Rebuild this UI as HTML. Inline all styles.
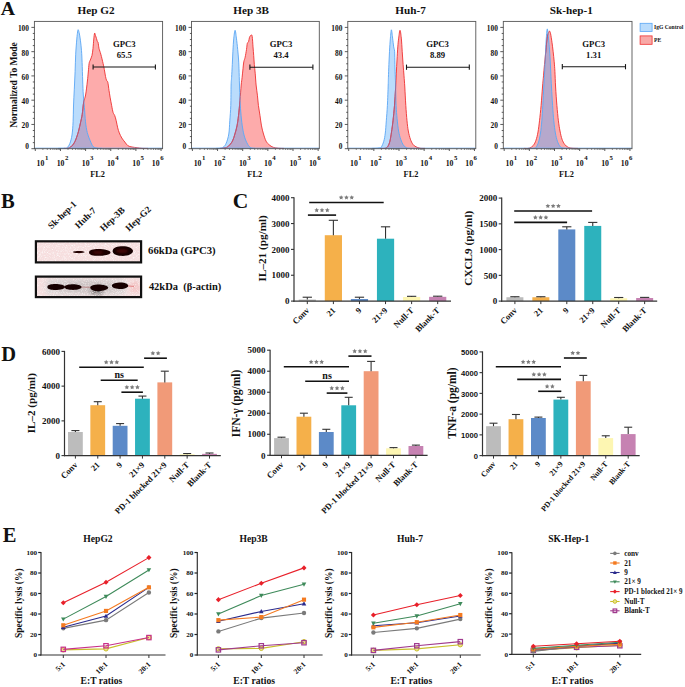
<!DOCTYPE html>
<html><head><meta charset="utf-8"><style>
html,body{margin:0;padding:0;background:#fff;}
svg{display:block;}
</style></head><body>
<svg width="685" height="687" viewBox="0 0 685 687">
<defs><clipPath id="cb0"><path d="M58.00,148.40 C59.00,148.38 62.52,148.38 64.00,148.30 C65.48,148.22 65.93,148.68 66.90,147.90 C67.87,147.12 68.95,145.75 69.80,143.60 C70.65,141.45 71.45,138.63 72.00,135.00 C72.55,131.37 72.85,126.63 73.10,121.80 C73.35,116.97 73.30,111.43 73.50,106.00 C73.70,100.57 74.03,94.92 74.30,89.20 C74.57,83.48 74.87,77.53 75.10,71.70 C75.33,65.87 75.42,59.65 75.70,54.20 C75.98,48.75 76.48,42.70 76.80,39.00 C77.12,35.30 77.37,33.55 77.60,32.00 C77.83,30.45 77.95,29.62 78.20,29.70 C78.45,29.78 78.73,30.75 79.10,32.50 C79.47,34.25 80.00,37.17 80.40,40.20 C80.80,43.23 81.22,47.00 81.50,50.70 C81.78,54.40 81.90,57.35 82.10,62.40 C82.30,67.45 82.50,75.57 82.70,81.00 C82.90,86.43 83.02,90.62 83.30,95.00 C83.58,99.38 84.03,102.83 84.40,107.30 C84.77,111.77 85.02,117.57 85.50,121.80 C85.98,126.03 86.52,129.55 87.30,132.70 C88.08,135.85 89.23,138.40 90.20,140.70 C91.17,143.00 91.97,145.27 93.10,146.50 C94.23,147.73 95.52,147.78 97.00,148.10 C98.48,148.42 101.17,148.35 102.00,148.40 L102.00,148.70 L58.00,148.70 Z"/></clipPath>
<clipPath id="cb1"><path d="M216.00,148.40 C216.67,148.37 218.80,148.38 220.00,148.20 C221.20,148.02 222.17,148.13 223.20,147.30 C224.23,146.47 225.27,145.42 226.20,143.20 C227.13,140.98 228.20,137.73 228.80,134.00 C229.40,130.27 229.47,125.57 229.80,120.80 C230.13,116.03 230.58,111.37 230.80,105.40 C231.02,99.43 230.97,89.65 231.10,85.00 C231.23,80.35 231.40,80.93 231.60,77.50 C231.80,74.07 232.08,68.77 232.30,64.40 C232.52,60.03 232.65,55.68 232.90,51.30 C233.15,46.92 233.43,41.60 233.80,38.10 C234.17,34.60 234.67,30.30 235.10,30.30 C235.53,30.30 235.97,34.90 236.40,38.10 C236.83,41.30 237.33,45.85 237.70,49.50 C238.07,53.15 238.38,56.78 238.60,60.00 C238.82,63.22 238.85,64.63 239.00,68.80 C239.15,72.97 239.33,79.75 239.50,85.00 C239.67,90.25 239.73,95.18 240.00,100.30 C240.27,105.42 240.67,111.10 241.10,115.70 C241.53,120.30 242.02,124.33 242.60,127.90 C243.18,131.47 243.75,134.37 244.60,137.10 C245.45,139.83 246.67,142.52 247.70,144.30 C248.73,146.08 249.58,147.12 250.80,147.80 C252.02,148.48 254.30,148.30 255.00,148.40 L255.00,148.70 L216.00,148.70 Z"/></clipPath>
<clipPath id="cb2"><path d="M372.00,148.40 C372.67,148.38 374.80,148.38 376.00,148.30 C377.20,148.22 378.33,148.07 379.20,147.90 C380.07,147.73 380.43,148.42 381.20,147.30 C381.97,146.18 383.12,143.58 383.80,141.20 C384.48,138.82 384.88,136.40 385.30,133.00 C385.72,129.60 385.95,125.40 386.30,120.80 C386.65,116.20 387.08,111.37 387.40,105.40 C387.72,99.43 388.03,89.65 388.20,85.00 C388.37,80.35 388.28,80.93 388.40,77.50 C388.52,74.07 388.72,68.77 388.90,64.40 C389.08,60.03 389.25,55.68 389.50,51.30 C389.75,46.92 390.08,41.68 390.40,38.10 C390.72,34.52 391.03,29.80 391.40,29.80 C391.77,29.80 392.22,35.25 392.60,38.10 C392.98,40.95 393.37,44.70 393.70,46.90 C394.03,49.10 394.40,48.38 394.60,51.30 C394.80,54.22 394.78,60.03 394.90,64.40 C395.02,68.77 395.18,74.07 395.30,77.50 C395.42,80.93 395.47,80.35 395.60,85.00 C395.73,89.65 395.85,99.78 396.10,105.40 C396.35,111.02 396.68,114.43 397.10,118.70 C397.52,122.97 398.00,127.58 398.60,131.00 C399.20,134.42 399.93,136.90 400.70,139.20 C401.47,141.50 402.27,143.37 403.20,144.80 C404.13,146.23 405.17,147.20 406.30,147.80 C407.43,148.40 409.38,148.30 410.00,148.40 L410.00,148.70 L372.00,148.70 Z"/></clipPath>
<clipPath id="cb3"><path d="M528.00,148.40 C528.98,148.38 532.57,148.48 533.90,148.30 C535.23,148.12 535.23,148.32 536.00,147.30 C536.77,146.28 537.75,144.58 538.50,142.20 C539.25,139.82 539.95,136.57 540.50,133.00 C541.05,129.43 541.42,125.40 541.80,120.80 C542.18,116.20 542.47,111.03 542.80,105.40 C543.13,99.77 543.55,91.65 543.80,87.00 C544.05,82.35 544.10,81.27 544.30,77.50 C544.50,73.73 544.78,68.77 545.00,64.40 C545.22,60.03 545.38,55.68 545.60,51.30 C545.82,46.92 546.02,41.83 546.30,38.10 C546.58,34.37 546.93,28.90 547.30,28.90 C547.67,28.90 548.17,35.10 548.50,38.10 C548.83,41.10 549.02,43.25 549.30,46.90 C549.58,50.55 549.95,55.62 550.20,60.00 C550.45,64.38 550.58,68.70 550.80,73.20 C551.02,77.70 551.20,81.63 551.50,87.00 C551.80,92.37 552.22,99.77 552.60,105.40 C552.98,111.03 553.33,116.20 553.80,120.80 C554.27,125.40 554.80,129.60 555.40,133.00 C556.00,136.40 556.63,138.98 557.40,141.20 C558.17,143.42 559.07,145.15 560.00,146.30 C560.93,147.45 561.67,147.75 563.00,148.10 C564.33,148.45 567.17,148.35 568.00,148.40 L568.00,148.70 L528.00,148.70 Z"/></clipPath>
<filter id="blur0" x="-50%" y="-50%" width="200%" height="200%"><feGaussianBlur stdDeviation="0.7"/></filter>
<filter id="blur1" x="-50%" y="-50%" width="200%" height="200%"><feGaussianBlur stdDeviation="1.1"/></filter>
<filter id="blur2" x="-50%" y="-50%" width="200%" height="200%"><feGaussianBlur stdDeviation="2.2"/></filter>
<filter id="noise" x="0" y="0" width="100%" height="100%"><feTurbulence type="fractalNoise" baseFrequency="1.1" numOctaves="2" seed="7" result="t"/><feColorMatrix in="t" type="matrix" values="0 0 0 0 1  0 0 0 0 1  0 0 0 0 1  3 0 0 0 -1.45" result="w"/><feColorMatrix in="t" type="matrix" values="0 0 0 0 0.93  0 0 0 0 0.7  0 0 0 0 0.72  0 3 0 0 -1.5" result="p"/><feMerge><feMergeNode in="p"/><feMergeNode in="w"/></feMerge></filter>
</defs>
<rect width="685" height="687" fill="#fff"/>
<text x="0.80" y="14.80" font-size="19.8" text-anchor="start" font-weight="bold" fill="#111" font-family='"Liberation Serif", serif'>A</text>
<text x="1.00" y="207.70" font-size="20.5" text-anchor="start" font-weight="bold" fill="#111" font-family='"Liberation Serif", serif'>B</text>
<text x="232.80" y="207.90" font-size="21.5" text-anchor="start" font-weight="bold" fill="#111" font-family='"Liberation Serif", serif'>C</text>
<text x="1.20" y="360.80" font-size="20.5" text-anchor="start" font-weight="bold" fill="#111" font-family='"Liberation Serif", serif'>D</text>
<text x="2.80" y="541.70" font-size="20.5" text-anchor="start" font-weight="bold" fill="#111" font-family='"Liberation Serif", serif'>E</text>
<text x="96.00" y="14.40" font-size="11.2" text-anchor="middle" font-weight="bold" fill="#111" font-family='"Liberation Serif", serif'>Hep G2</text>
<path d="M64.00,148.40 C64.85,148.33 67.65,148.57 69.10,148.00 C70.55,147.43 71.62,146.33 72.70,145.00 C73.78,143.67 74.63,142.28 75.60,140.00 C76.57,137.72 77.65,134.33 78.50,131.30 C79.35,128.27 80.08,124.60 80.70,121.80 C81.32,119.00 81.70,117.80 82.20,114.50 C82.70,111.20 83.13,105.25 83.70,102.00 C84.27,98.75 84.98,98.50 85.60,95.00 C86.22,91.50 86.95,84.83 87.40,81.00 C87.85,77.17 88.02,74.92 88.30,72.00 C88.58,69.08 88.77,65.50 89.10,63.50 C89.43,61.50 89.82,61.35 90.30,60.00 C90.78,58.65 91.55,57.33 92.00,55.40 C92.45,53.47 92.70,51.13 93.00,48.40 C93.30,45.67 93.53,41.53 93.80,39.00 C94.07,36.47 94.32,33.78 94.60,33.20 C94.88,32.62 95.18,34.62 95.50,35.50 C95.82,36.38 96.20,37.52 96.50,38.50 C96.80,39.48 97.03,40.73 97.30,41.40 C97.57,42.07 97.82,41.33 98.10,42.50 C98.38,43.67 98.55,46.45 99.00,48.40 C99.45,50.35 100.12,51.68 100.80,54.20 C101.48,56.72 102.52,60.97 103.10,63.50 C103.68,66.03 103.90,67.25 104.30,69.40 C104.70,71.55 105.12,74.55 105.50,76.40 C105.88,78.25 106.22,79.53 106.60,80.50 C106.98,81.47 107.40,80.55 107.80,82.20 C108.20,83.85 108.62,87.90 109.00,90.40 C109.38,92.90 109.67,94.72 110.10,97.20 C110.53,99.68 111.10,102.75 111.60,105.30 C112.10,107.85 112.58,110.80 113.10,112.50 C113.62,114.20 114.18,114.13 114.70,115.50 C115.22,116.87 115.70,118.65 116.20,120.70 C116.70,122.75 117.18,125.77 117.70,127.80 C118.22,129.83 118.62,131.20 119.30,132.90 C119.98,134.60 120.87,136.47 121.80,138.00 C122.73,139.53 123.88,140.82 124.90,142.10 C125.92,143.38 126.72,144.88 127.90,145.70 C129.08,146.52 130.47,146.67 132.00,147.00 C133.53,147.33 135.43,147.48 137.10,147.70 C138.77,147.92 140.18,148.18 142.00,148.30 C143.82,148.42 147.00,148.38 148.00,148.40 L148.00,148.70 L64.00,148.70 Z" fill="#fdabab"/>
<path d="M58.00,148.40 C59.00,148.38 62.52,148.38 64.00,148.30 C65.48,148.22 65.93,148.68 66.90,147.90 C67.87,147.12 68.95,145.75 69.80,143.60 C70.65,141.45 71.45,138.63 72.00,135.00 C72.55,131.37 72.85,126.63 73.10,121.80 C73.35,116.97 73.30,111.43 73.50,106.00 C73.70,100.57 74.03,94.92 74.30,89.20 C74.57,83.48 74.87,77.53 75.10,71.70 C75.33,65.87 75.42,59.65 75.70,54.20 C75.98,48.75 76.48,42.70 76.80,39.00 C77.12,35.30 77.37,33.55 77.60,32.00 C77.83,30.45 77.95,29.62 78.20,29.70 C78.45,29.78 78.73,30.75 79.10,32.50 C79.47,34.25 80.00,37.17 80.40,40.20 C80.80,43.23 81.22,47.00 81.50,50.70 C81.78,54.40 81.90,57.35 82.10,62.40 C82.30,67.45 82.50,75.57 82.70,81.00 C82.90,86.43 83.02,90.62 83.30,95.00 C83.58,99.38 84.03,102.83 84.40,107.30 C84.77,111.77 85.02,117.57 85.50,121.80 C85.98,126.03 86.52,129.55 87.30,132.70 C88.08,135.85 89.23,138.40 90.20,140.70 C91.17,143.00 91.97,145.27 93.10,146.50 C94.23,147.73 95.52,147.78 97.00,148.10 C98.48,148.42 101.17,148.35 102.00,148.40 L102.00,148.70 L58.00,148.70 Z" fill="#badcfc"/>
<path d="M64.00,148.40 C64.85,148.33 67.65,148.57 69.10,148.00 C70.55,147.43 71.62,146.33 72.70,145.00 C73.78,143.67 74.63,142.28 75.60,140.00 C76.57,137.72 77.65,134.33 78.50,131.30 C79.35,128.27 80.08,124.60 80.70,121.80 C81.32,119.00 81.70,117.80 82.20,114.50 C82.70,111.20 83.13,105.25 83.70,102.00 C84.27,98.75 84.98,98.50 85.60,95.00 C86.22,91.50 86.95,84.83 87.40,81.00 C87.85,77.17 88.02,74.92 88.30,72.00 C88.58,69.08 88.77,65.50 89.10,63.50 C89.43,61.50 89.82,61.35 90.30,60.00 C90.78,58.65 91.55,57.33 92.00,55.40 C92.45,53.47 92.70,51.13 93.00,48.40 C93.30,45.67 93.53,41.53 93.80,39.00 C94.07,36.47 94.32,33.78 94.60,33.20 C94.88,32.62 95.18,34.62 95.50,35.50 C95.82,36.38 96.20,37.52 96.50,38.50 C96.80,39.48 97.03,40.73 97.30,41.40 C97.57,42.07 97.82,41.33 98.10,42.50 C98.38,43.67 98.55,46.45 99.00,48.40 C99.45,50.35 100.12,51.68 100.80,54.20 C101.48,56.72 102.52,60.97 103.10,63.50 C103.68,66.03 103.90,67.25 104.30,69.40 C104.70,71.55 105.12,74.55 105.50,76.40 C105.88,78.25 106.22,79.53 106.60,80.50 C106.98,81.47 107.40,80.55 107.80,82.20 C108.20,83.85 108.62,87.90 109.00,90.40 C109.38,92.90 109.67,94.72 110.10,97.20 C110.53,99.68 111.10,102.75 111.60,105.30 C112.10,107.85 112.58,110.80 113.10,112.50 C113.62,114.20 114.18,114.13 114.70,115.50 C115.22,116.87 115.70,118.65 116.20,120.70 C116.70,122.75 117.18,125.77 117.70,127.80 C118.22,129.83 118.62,131.20 119.30,132.90 C119.98,134.60 120.87,136.47 121.80,138.00 C122.73,139.53 123.88,140.82 124.90,142.10 C125.92,143.38 126.72,144.88 127.90,145.70 C129.08,146.52 130.47,146.67 132.00,147.00 C133.53,147.33 135.43,147.48 137.10,147.70 C138.77,147.92 140.18,148.18 142.00,148.30 C143.82,148.42 147.00,148.38 148.00,148.40 L148.00,148.70 L64.00,148.70 Z" fill="#b6a8cc" clip-path="url(#cb0)"/>
<path d="M64.00,148.40 C64.85,148.33 67.65,148.57 69.10,148.00 C70.55,147.43 71.62,146.33 72.70,145.00 C73.78,143.67 74.63,142.28 75.60,140.00 C76.57,137.72 77.65,134.33 78.50,131.30 C79.35,128.27 80.08,124.60 80.70,121.80 C81.32,119.00 81.70,117.80 82.20,114.50 C82.70,111.20 83.13,105.25 83.70,102.00 C84.27,98.75 84.98,98.50 85.60,95.00 C86.22,91.50 86.95,84.83 87.40,81.00 C87.85,77.17 88.02,74.92 88.30,72.00 C88.58,69.08 88.77,65.50 89.10,63.50 C89.43,61.50 89.82,61.35 90.30,60.00 C90.78,58.65 91.55,57.33 92.00,55.40 C92.45,53.47 92.70,51.13 93.00,48.40 C93.30,45.67 93.53,41.53 93.80,39.00 C94.07,36.47 94.32,33.78 94.60,33.20 C94.88,32.62 95.18,34.62 95.50,35.50 C95.82,36.38 96.20,37.52 96.50,38.50 C96.80,39.48 97.03,40.73 97.30,41.40 C97.57,42.07 97.82,41.33 98.10,42.50 C98.38,43.67 98.55,46.45 99.00,48.40 C99.45,50.35 100.12,51.68 100.80,54.20 C101.48,56.72 102.52,60.97 103.10,63.50 C103.68,66.03 103.90,67.25 104.30,69.40 C104.70,71.55 105.12,74.55 105.50,76.40 C105.88,78.25 106.22,79.53 106.60,80.50 C106.98,81.47 107.40,80.55 107.80,82.20 C108.20,83.85 108.62,87.90 109.00,90.40 C109.38,92.90 109.67,94.72 110.10,97.20 C110.53,99.68 111.10,102.75 111.60,105.30 C112.10,107.85 112.58,110.80 113.10,112.50 C113.62,114.20 114.18,114.13 114.70,115.50 C115.22,116.87 115.70,118.65 116.20,120.70 C116.70,122.75 117.18,125.77 117.70,127.80 C118.22,129.83 118.62,131.20 119.30,132.90 C119.98,134.60 120.87,136.47 121.80,138.00 C122.73,139.53 123.88,140.82 124.90,142.10 C125.92,143.38 126.72,144.88 127.90,145.70 C129.08,146.52 130.47,146.67 132.00,147.00 C133.53,147.33 135.43,147.48 137.10,147.70 C138.77,147.92 140.18,148.18 142.00,148.30 C143.82,148.42 147.00,148.38 148.00,148.40" fill="none" stroke="#ee3030" stroke-width="0.9"/>
<path d="M58.00,148.40 C59.00,148.38 62.52,148.38 64.00,148.30 C65.48,148.22 65.93,148.68 66.90,147.90 C67.87,147.12 68.95,145.75 69.80,143.60 C70.65,141.45 71.45,138.63 72.00,135.00 C72.55,131.37 72.85,126.63 73.10,121.80 C73.35,116.97 73.30,111.43 73.50,106.00 C73.70,100.57 74.03,94.92 74.30,89.20 C74.57,83.48 74.87,77.53 75.10,71.70 C75.33,65.87 75.42,59.65 75.70,54.20 C75.98,48.75 76.48,42.70 76.80,39.00 C77.12,35.30 77.37,33.55 77.60,32.00 C77.83,30.45 77.95,29.62 78.20,29.70 C78.45,29.78 78.73,30.75 79.10,32.50 C79.47,34.25 80.00,37.17 80.40,40.20 C80.80,43.23 81.22,47.00 81.50,50.70 C81.78,54.40 81.90,57.35 82.10,62.40 C82.30,67.45 82.50,75.57 82.70,81.00 C82.90,86.43 83.02,90.62 83.30,95.00 C83.58,99.38 84.03,102.83 84.40,107.30 C84.77,111.77 85.02,117.57 85.50,121.80 C85.98,126.03 86.52,129.55 87.30,132.70 C88.08,135.85 89.23,138.40 90.20,140.70 C91.17,143.00 91.97,145.27 93.10,146.50 C94.23,147.73 95.52,147.78 97.00,148.10 C98.48,148.42 101.17,148.35 102.00,148.40" fill="none" stroke="#5aa6f4" stroke-width="0.9"/>
<path d="M64.00,148.40 C64.85,148.33 67.65,148.57 69.10,148.00 C70.55,147.43 71.62,146.33 72.70,145.00 C73.78,143.67 74.63,142.28 75.60,140.00 C76.57,137.72 77.65,134.33 78.50,131.30 C79.35,128.27 80.08,124.60 80.70,121.80 C81.32,119.00 81.70,117.80 82.20,114.50 C82.70,111.20 83.13,105.25 83.70,102.00 C84.27,98.75 84.98,98.50 85.60,95.00 C86.22,91.50 86.95,84.83 87.40,81.00 C87.85,77.17 88.02,74.92 88.30,72.00 C88.58,69.08 88.77,65.50 89.10,63.50 C89.43,61.50 89.82,61.35 90.30,60.00 C90.78,58.65 91.55,57.33 92.00,55.40 C92.45,53.47 92.70,51.13 93.00,48.40 C93.30,45.67 93.53,41.53 93.80,39.00 C94.07,36.47 94.32,33.78 94.60,33.20 C94.88,32.62 95.18,34.62 95.50,35.50 C95.82,36.38 96.20,37.52 96.50,38.50 C96.80,39.48 97.03,40.73 97.30,41.40 C97.57,42.07 97.82,41.33 98.10,42.50 C98.38,43.67 98.55,46.45 99.00,48.40 C99.45,50.35 100.12,51.68 100.80,54.20 C101.48,56.72 102.52,60.97 103.10,63.50 C103.68,66.03 103.90,67.25 104.30,69.40 C104.70,71.55 105.12,74.55 105.50,76.40 C105.88,78.25 106.22,79.53 106.60,80.50 C106.98,81.47 107.40,80.55 107.80,82.20 C108.20,83.85 108.62,87.90 109.00,90.40 C109.38,92.90 109.67,94.72 110.10,97.20 C110.53,99.68 111.10,102.75 111.60,105.30 C112.10,107.85 112.58,110.80 113.10,112.50 C113.62,114.20 114.18,114.13 114.70,115.50 C115.22,116.87 115.70,118.65 116.20,120.70 C116.70,122.75 117.18,125.77 117.70,127.80 C118.22,129.83 118.62,131.20 119.30,132.90 C119.98,134.60 120.87,136.47 121.80,138.00 C122.73,139.53 123.88,140.82 124.90,142.10 C125.92,143.38 126.72,144.88 127.90,145.70 C129.08,146.52 130.47,146.67 132.00,147.00 C133.53,147.33 135.43,147.48 137.10,147.70 C138.77,147.92 140.18,148.18 142.00,148.30 C143.82,148.42 147.00,148.38 148.00,148.40" fill="none" stroke="#b05a80" stroke-width="0.9" clip-path="url(#cb0)"/>
<line x1="34.40" y1="148.10" x2="162.60" y2="148.10" stroke="#6aaaf0" stroke-width="0.8"/>
<rect x="34.40" y="21.40" width="128.20" height="127.30" fill="none" stroke="#555" stroke-width="0.9"/>
<line x1="31.40" y1="148.70" x2="34.40" y2="148.70" stroke="#333" stroke-width="0.8"/>
<text x="29.00" y="148.90" font-size="7.4" text-anchor="end" font-weight="bold" fill="#111" font-family='"Liberation Serif", serif'>0</text>
<line x1="32.80" y1="142.63" x2="34.40" y2="142.63" stroke="#333" stroke-width="0.8"/>
<line x1="32.80" y1="136.57" x2="34.40" y2="136.57" stroke="#333" stroke-width="0.8"/>
<line x1="32.80" y1="130.50" x2="34.40" y2="130.50" stroke="#333" stroke-width="0.8"/>
<line x1="31.40" y1="124.44" x2="34.40" y2="124.44" stroke="#333" stroke-width="0.8"/>
<text x="29.00" y="128.44" font-size="7.4" text-anchor="end" font-weight="bold" fill="#111" font-family='"Liberation Serif", serif'>20</text>
<line x1="32.80" y1="118.37" x2="34.40" y2="118.37" stroke="#333" stroke-width="0.8"/>
<line x1="32.80" y1="112.31" x2="34.40" y2="112.31" stroke="#333" stroke-width="0.8"/>
<line x1="32.80" y1="106.24" x2="34.40" y2="106.24" stroke="#333" stroke-width="0.8"/>
<line x1="31.40" y1="100.18" x2="34.40" y2="100.18" stroke="#333" stroke-width="0.8"/>
<text x="29.00" y="104.18" font-size="7.4" text-anchor="end" font-weight="bold" fill="#111" font-family='"Liberation Serif", serif'>40</text>
<line x1="32.80" y1="94.11" x2="34.40" y2="94.11" stroke="#333" stroke-width="0.8"/>
<line x1="32.80" y1="88.05" x2="34.40" y2="88.05" stroke="#333" stroke-width="0.8"/>
<line x1="32.80" y1="81.98" x2="34.40" y2="81.98" stroke="#333" stroke-width="0.8"/>
<line x1="31.40" y1="75.92" x2="34.40" y2="75.92" stroke="#333" stroke-width="0.8"/>
<text x="29.00" y="79.92" font-size="7.4" text-anchor="end" font-weight="bold" fill="#111" font-family='"Liberation Serif", serif'>60</text>
<line x1="32.80" y1="69.85" x2="34.40" y2="69.85" stroke="#333" stroke-width="0.8"/>
<line x1="32.80" y1="63.79" x2="34.40" y2="63.79" stroke="#333" stroke-width="0.8"/>
<line x1="32.80" y1="57.72" x2="34.40" y2="57.72" stroke="#333" stroke-width="0.8"/>
<line x1="31.40" y1="51.66" x2="34.40" y2="51.66" stroke="#333" stroke-width="0.8"/>
<text x="29.00" y="55.66" font-size="7.4" text-anchor="end" font-weight="bold" fill="#111" font-family='"Liberation Serif", serif'>80</text>
<line x1="32.80" y1="45.59" x2="34.40" y2="45.59" stroke="#333" stroke-width="0.8"/>
<line x1="32.80" y1="39.53" x2="34.40" y2="39.53" stroke="#333" stroke-width="0.8"/>
<line x1="32.80" y1="33.46" x2="34.40" y2="33.46" stroke="#333" stroke-width="0.8"/>
<line x1="31.40" y1="27.40" x2="34.40" y2="27.40" stroke="#333" stroke-width="0.8"/>
<text x="29.00" y="31.40" font-size="7.4" text-anchor="end" font-weight="bold" fill="#111" font-family='"Liberation Serif", serif'>100</text>
<line x1="35.30" y1="148.70" x2="35.30" y2="151.00" stroke="#333" stroke-width="0.8"/>
<line x1="42.87" y1="148.70" x2="42.87" y2="150.00" stroke="#444" stroke-width="0.6"/>
<line x1="47.30" y1="148.70" x2="47.30" y2="150.00" stroke="#444" stroke-width="0.6"/>
<line x1="50.44" y1="148.70" x2="50.44" y2="150.00" stroke="#444" stroke-width="0.6"/>
<line x1="52.88" y1="148.70" x2="52.88" y2="150.00" stroke="#444" stroke-width="0.6"/>
<line x1="54.87" y1="148.70" x2="54.87" y2="150.00" stroke="#444" stroke-width="0.6"/>
<line x1="56.55" y1="148.70" x2="56.55" y2="150.00" stroke="#444" stroke-width="0.6"/>
<line x1="58.01" y1="148.70" x2="58.01" y2="150.00" stroke="#444" stroke-width="0.6"/>
<line x1="59.30" y1="148.70" x2="59.30" y2="150.00" stroke="#444" stroke-width="0.6"/>
<line x1="60.45" y1="148.70" x2="60.45" y2="151.00" stroke="#333" stroke-width="0.8"/>
<line x1="68.02" y1="148.70" x2="68.02" y2="150.00" stroke="#444" stroke-width="0.6"/>
<line x1="72.45" y1="148.70" x2="72.45" y2="150.00" stroke="#444" stroke-width="0.6"/>
<line x1="75.59" y1="148.70" x2="75.59" y2="150.00" stroke="#444" stroke-width="0.6"/>
<line x1="78.03" y1="148.70" x2="78.03" y2="150.00" stroke="#444" stroke-width="0.6"/>
<line x1="80.02" y1="148.70" x2="80.02" y2="150.00" stroke="#444" stroke-width="0.6"/>
<line x1="81.70" y1="148.70" x2="81.70" y2="150.00" stroke="#444" stroke-width="0.6"/>
<line x1="83.16" y1="148.70" x2="83.16" y2="150.00" stroke="#444" stroke-width="0.6"/>
<line x1="84.45" y1="148.70" x2="84.45" y2="150.00" stroke="#444" stroke-width="0.6"/>
<line x1="85.60" y1="148.70" x2="85.60" y2="151.00" stroke="#333" stroke-width="0.8"/>
<line x1="93.17" y1="148.70" x2="93.17" y2="150.00" stroke="#444" stroke-width="0.6"/>
<line x1="97.60" y1="148.70" x2="97.60" y2="150.00" stroke="#444" stroke-width="0.6"/>
<line x1="100.74" y1="148.70" x2="100.74" y2="150.00" stroke="#444" stroke-width="0.6"/>
<line x1="103.18" y1="148.70" x2="103.18" y2="150.00" stroke="#444" stroke-width="0.6"/>
<line x1="105.17" y1="148.70" x2="105.17" y2="150.00" stroke="#444" stroke-width="0.6"/>
<line x1="106.85" y1="148.70" x2="106.85" y2="150.00" stroke="#444" stroke-width="0.6"/>
<line x1="108.31" y1="148.70" x2="108.31" y2="150.00" stroke="#444" stroke-width="0.6"/>
<line x1="109.60" y1="148.70" x2="109.60" y2="150.00" stroke="#444" stroke-width="0.6"/>
<line x1="110.75" y1="148.70" x2="110.75" y2="151.00" stroke="#333" stroke-width="0.8"/>
<line x1="118.32" y1="148.70" x2="118.32" y2="150.00" stroke="#444" stroke-width="0.6"/>
<line x1="122.75" y1="148.70" x2="122.75" y2="150.00" stroke="#444" stroke-width="0.6"/>
<line x1="125.89" y1="148.70" x2="125.89" y2="150.00" stroke="#444" stroke-width="0.6"/>
<line x1="128.33" y1="148.70" x2="128.33" y2="150.00" stroke="#444" stroke-width="0.6"/>
<line x1="130.32" y1="148.70" x2="130.32" y2="150.00" stroke="#444" stroke-width="0.6"/>
<line x1="132.00" y1="148.70" x2="132.00" y2="150.00" stroke="#444" stroke-width="0.6"/>
<line x1="133.46" y1="148.70" x2="133.46" y2="150.00" stroke="#444" stroke-width="0.6"/>
<line x1="134.75" y1="148.70" x2="134.75" y2="150.00" stroke="#444" stroke-width="0.6"/>
<line x1="135.90" y1="148.70" x2="135.90" y2="151.00" stroke="#333" stroke-width="0.8"/>
<line x1="143.47" y1="148.70" x2="143.47" y2="150.00" stroke="#444" stroke-width="0.6"/>
<line x1="147.90" y1="148.70" x2="147.90" y2="150.00" stroke="#444" stroke-width="0.6"/>
<line x1="151.04" y1="148.70" x2="151.04" y2="150.00" stroke="#444" stroke-width="0.6"/>
<line x1="153.48" y1="148.70" x2="153.48" y2="150.00" stroke="#444" stroke-width="0.6"/>
<line x1="155.47" y1="148.70" x2="155.47" y2="150.00" stroke="#444" stroke-width="0.6"/>
<line x1="157.15" y1="148.70" x2="157.15" y2="150.00" stroke="#444" stroke-width="0.6"/>
<line x1="158.61" y1="148.70" x2="158.61" y2="150.00" stroke="#444" stroke-width="0.6"/>
<line x1="159.90" y1="148.70" x2="159.90" y2="150.00" stroke="#444" stroke-width="0.6"/>
<line x1="161.05" y1="148.70" x2="161.05" y2="151.00" stroke="#333" stroke-width="0.8"/>
<text x="40.50" y="165.5" font-size="7.8" text-anchor="middle" font-weight="bold" fill="#111" font-family='"Liberation Serif", serif'>10</text>
<text x="44.90" y="160.0" font-size="6.8" text-anchor="start" font-weight="bold" fill="#111" font-family='"Liberation Serif", serif'>1</text>
<text x="60.55" y="165.5" font-size="7.8" text-anchor="middle" font-weight="bold" fill="#111" font-family='"Liberation Serif", serif'>10</text>
<text x="64.95" y="160.0" font-size="6.8" text-anchor="start" font-weight="bold" fill="#111" font-family='"Liberation Serif", serif'>2</text>
<text x="85.70" y="165.5" font-size="7.8" text-anchor="middle" font-weight="bold" fill="#111" font-family='"Liberation Serif", serif'>10</text>
<text x="90.10" y="160.0" font-size="6.8" text-anchor="start" font-weight="bold" fill="#111" font-family='"Liberation Serif", serif'>3</text>
<text x="110.85" y="165.5" font-size="7.8" text-anchor="middle" font-weight="bold" fill="#111" font-family='"Liberation Serif", serif'>10</text>
<text x="115.25" y="160.0" font-size="6.8" text-anchor="start" font-weight="bold" fill="#111" font-family='"Liberation Serif", serif'>4</text>
<text x="136.20" y="165.5" font-size="7.8" text-anchor="middle" font-weight="bold" fill="#111" font-family='"Liberation Serif", serif'>10</text>
<text x="140.60" y="160.0" font-size="6.8" text-anchor="start" font-weight="bold" fill="#111" font-family='"Liberation Serif", serif'>5</text>
<text x="155.75" y="165.5" font-size="7.8" text-anchor="middle" font-weight="bold" fill="#111" font-family='"Liberation Serif", serif'>10</text>
<text x="160.15" y="160.0" font-size="6.8" text-anchor="start" font-weight="bold" fill="#111" font-family='"Liberation Serif", serif'>6</text>
<text x="97.60" y="176.80" font-size="8.3" text-anchor="middle" font-weight="bold" fill="#111" font-family='"Liberation Serif", serif'>FL2</text>
<line x1="93.10" y1="67.00" x2="155.40" y2="67.00" stroke="#151515" stroke-width="1.1"/>
<line x1="93.10" y1="64.40" x2="93.10" y2="69.60" stroke="#151515" stroke-width="1.1"/>
<line x1="155.40" y1="64.40" x2="155.40" y2="69.60" stroke="#151515" stroke-width="1.1"/>
<text x="124.30" y="46.90" font-size="8.7" text-anchor="middle" font-weight="bold" fill="#111" font-family='"Liberation Serif", serif'>GPC3</text>
<text x="124.30" y="58.40" font-size="8.7" text-anchor="middle" font-weight="bold" fill="#111" font-family='"Liberation Serif", serif'>65.5</text>
<text x="251.20" y="14.40" font-size="11.2" text-anchor="middle" font-weight="bold" fill="#111" font-family='"Liberation Serif", serif'>Hep 3B</text>
<path d="M220.00,148.40 C220.87,148.30 223.82,148.15 225.20,147.80 C226.58,147.45 227.10,147.40 228.30,146.30 C229.50,145.20 231.30,143.25 232.40,141.20 C233.50,139.15 234.13,136.55 234.90,134.00 C235.67,131.45 236.40,128.95 237.00,125.90 C237.60,122.85 238.00,119.97 238.50,115.70 C239.00,111.43 239.55,105.42 240.00,100.30 C240.45,95.18 240.85,88.80 241.20,85.00 C241.55,81.20 241.80,80.20 242.10,77.50 C242.40,74.80 242.72,71.42 243.00,68.80 C243.28,66.18 243.45,63.70 243.80,61.80 C244.15,59.90 244.65,59.45 245.10,57.40 C245.55,55.35 246.13,51.83 246.50,49.50 C246.87,47.17 246.95,44.72 247.30,43.40 C247.65,42.08 248.23,42.62 248.60,41.60 C248.97,40.58 249.08,38.38 249.50,37.30 C249.92,36.22 250.65,35.25 251.10,35.10 C251.55,34.95 251.88,34.43 252.20,36.40 C252.52,38.37 252.75,43.70 253.00,46.90 C253.25,50.10 253.48,52.68 253.70,55.60 C253.92,58.52 254.05,61.47 254.30,64.40 C254.55,67.33 254.90,69.77 255.20,73.20 C255.50,76.63 255.73,81.33 256.10,85.00 C256.47,88.67 257.02,91.80 257.40,95.20 C257.78,98.60 257.97,101.98 258.40,105.40 C258.83,108.82 259.48,112.28 260.00,115.70 C260.52,119.12 260.92,122.85 261.50,125.90 C262.08,128.95 262.73,131.45 263.50,134.00 C264.27,136.55 265.15,139.40 266.10,141.20 C267.05,143.00 268.02,143.78 269.20,144.80 C270.38,145.82 271.67,146.73 273.20,147.30 C274.73,147.87 276.60,148.02 278.40,148.20 C280.20,148.38 283.07,148.37 284.00,148.40 L284.00,148.70 L220.00,148.70 Z" fill="#fdabab"/>
<path d="M216.00,148.40 C216.67,148.37 218.80,148.38 220.00,148.20 C221.20,148.02 222.17,148.13 223.20,147.30 C224.23,146.47 225.27,145.42 226.20,143.20 C227.13,140.98 228.20,137.73 228.80,134.00 C229.40,130.27 229.47,125.57 229.80,120.80 C230.13,116.03 230.58,111.37 230.80,105.40 C231.02,99.43 230.97,89.65 231.10,85.00 C231.23,80.35 231.40,80.93 231.60,77.50 C231.80,74.07 232.08,68.77 232.30,64.40 C232.52,60.03 232.65,55.68 232.90,51.30 C233.15,46.92 233.43,41.60 233.80,38.10 C234.17,34.60 234.67,30.30 235.10,30.30 C235.53,30.30 235.97,34.90 236.40,38.10 C236.83,41.30 237.33,45.85 237.70,49.50 C238.07,53.15 238.38,56.78 238.60,60.00 C238.82,63.22 238.85,64.63 239.00,68.80 C239.15,72.97 239.33,79.75 239.50,85.00 C239.67,90.25 239.73,95.18 240.00,100.30 C240.27,105.42 240.67,111.10 241.10,115.70 C241.53,120.30 242.02,124.33 242.60,127.90 C243.18,131.47 243.75,134.37 244.60,137.10 C245.45,139.83 246.67,142.52 247.70,144.30 C248.73,146.08 249.58,147.12 250.80,147.80 C252.02,148.48 254.30,148.30 255.00,148.40 L255.00,148.70 L216.00,148.70 Z" fill="#badcfc"/>
<path d="M220.00,148.40 C220.87,148.30 223.82,148.15 225.20,147.80 C226.58,147.45 227.10,147.40 228.30,146.30 C229.50,145.20 231.30,143.25 232.40,141.20 C233.50,139.15 234.13,136.55 234.90,134.00 C235.67,131.45 236.40,128.95 237.00,125.90 C237.60,122.85 238.00,119.97 238.50,115.70 C239.00,111.43 239.55,105.42 240.00,100.30 C240.45,95.18 240.85,88.80 241.20,85.00 C241.55,81.20 241.80,80.20 242.10,77.50 C242.40,74.80 242.72,71.42 243.00,68.80 C243.28,66.18 243.45,63.70 243.80,61.80 C244.15,59.90 244.65,59.45 245.10,57.40 C245.55,55.35 246.13,51.83 246.50,49.50 C246.87,47.17 246.95,44.72 247.30,43.40 C247.65,42.08 248.23,42.62 248.60,41.60 C248.97,40.58 249.08,38.38 249.50,37.30 C249.92,36.22 250.65,35.25 251.10,35.10 C251.55,34.95 251.88,34.43 252.20,36.40 C252.52,38.37 252.75,43.70 253.00,46.90 C253.25,50.10 253.48,52.68 253.70,55.60 C253.92,58.52 254.05,61.47 254.30,64.40 C254.55,67.33 254.90,69.77 255.20,73.20 C255.50,76.63 255.73,81.33 256.10,85.00 C256.47,88.67 257.02,91.80 257.40,95.20 C257.78,98.60 257.97,101.98 258.40,105.40 C258.83,108.82 259.48,112.28 260.00,115.70 C260.52,119.12 260.92,122.85 261.50,125.90 C262.08,128.95 262.73,131.45 263.50,134.00 C264.27,136.55 265.15,139.40 266.10,141.20 C267.05,143.00 268.02,143.78 269.20,144.80 C270.38,145.82 271.67,146.73 273.20,147.30 C274.73,147.87 276.60,148.02 278.40,148.20 C280.20,148.38 283.07,148.37 284.00,148.40 L284.00,148.70 L220.00,148.70 Z" fill="#b6a8cc" clip-path="url(#cb1)"/>
<path d="M220.00,148.40 C220.87,148.30 223.82,148.15 225.20,147.80 C226.58,147.45 227.10,147.40 228.30,146.30 C229.50,145.20 231.30,143.25 232.40,141.20 C233.50,139.15 234.13,136.55 234.90,134.00 C235.67,131.45 236.40,128.95 237.00,125.90 C237.60,122.85 238.00,119.97 238.50,115.70 C239.00,111.43 239.55,105.42 240.00,100.30 C240.45,95.18 240.85,88.80 241.20,85.00 C241.55,81.20 241.80,80.20 242.10,77.50 C242.40,74.80 242.72,71.42 243.00,68.80 C243.28,66.18 243.45,63.70 243.80,61.80 C244.15,59.90 244.65,59.45 245.10,57.40 C245.55,55.35 246.13,51.83 246.50,49.50 C246.87,47.17 246.95,44.72 247.30,43.40 C247.65,42.08 248.23,42.62 248.60,41.60 C248.97,40.58 249.08,38.38 249.50,37.30 C249.92,36.22 250.65,35.25 251.10,35.10 C251.55,34.95 251.88,34.43 252.20,36.40 C252.52,38.37 252.75,43.70 253.00,46.90 C253.25,50.10 253.48,52.68 253.70,55.60 C253.92,58.52 254.05,61.47 254.30,64.40 C254.55,67.33 254.90,69.77 255.20,73.20 C255.50,76.63 255.73,81.33 256.10,85.00 C256.47,88.67 257.02,91.80 257.40,95.20 C257.78,98.60 257.97,101.98 258.40,105.40 C258.83,108.82 259.48,112.28 260.00,115.70 C260.52,119.12 260.92,122.85 261.50,125.90 C262.08,128.95 262.73,131.45 263.50,134.00 C264.27,136.55 265.15,139.40 266.10,141.20 C267.05,143.00 268.02,143.78 269.20,144.80 C270.38,145.82 271.67,146.73 273.20,147.30 C274.73,147.87 276.60,148.02 278.40,148.20 C280.20,148.38 283.07,148.37 284.00,148.40" fill="none" stroke="#ee3030" stroke-width="0.9"/>
<path d="M216.00,148.40 C216.67,148.37 218.80,148.38 220.00,148.20 C221.20,148.02 222.17,148.13 223.20,147.30 C224.23,146.47 225.27,145.42 226.20,143.20 C227.13,140.98 228.20,137.73 228.80,134.00 C229.40,130.27 229.47,125.57 229.80,120.80 C230.13,116.03 230.58,111.37 230.80,105.40 C231.02,99.43 230.97,89.65 231.10,85.00 C231.23,80.35 231.40,80.93 231.60,77.50 C231.80,74.07 232.08,68.77 232.30,64.40 C232.52,60.03 232.65,55.68 232.90,51.30 C233.15,46.92 233.43,41.60 233.80,38.10 C234.17,34.60 234.67,30.30 235.10,30.30 C235.53,30.30 235.97,34.90 236.40,38.10 C236.83,41.30 237.33,45.85 237.70,49.50 C238.07,53.15 238.38,56.78 238.60,60.00 C238.82,63.22 238.85,64.63 239.00,68.80 C239.15,72.97 239.33,79.75 239.50,85.00 C239.67,90.25 239.73,95.18 240.00,100.30 C240.27,105.42 240.67,111.10 241.10,115.70 C241.53,120.30 242.02,124.33 242.60,127.90 C243.18,131.47 243.75,134.37 244.60,137.10 C245.45,139.83 246.67,142.52 247.70,144.30 C248.73,146.08 249.58,147.12 250.80,147.80 C252.02,148.48 254.30,148.30 255.00,148.40" fill="none" stroke="#5aa6f4" stroke-width="0.9"/>
<path d="M220.00,148.40 C220.87,148.30 223.82,148.15 225.20,147.80 C226.58,147.45 227.10,147.40 228.30,146.30 C229.50,145.20 231.30,143.25 232.40,141.20 C233.50,139.15 234.13,136.55 234.90,134.00 C235.67,131.45 236.40,128.95 237.00,125.90 C237.60,122.85 238.00,119.97 238.50,115.70 C239.00,111.43 239.55,105.42 240.00,100.30 C240.45,95.18 240.85,88.80 241.20,85.00 C241.55,81.20 241.80,80.20 242.10,77.50 C242.40,74.80 242.72,71.42 243.00,68.80 C243.28,66.18 243.45,63.70 243.80,61.80 C244.15,59.90 244.65,59.45 245.10,57.40 C245.55,55.35 246.13,51.83 246.50,49.50 C246.87,47.17 246.95,44.72 247.30,43.40 C247.65,42.08 248.23,42.62 248.60,41.60 C248.97,40.58 249.08,38.38 249.50,37.30 C249.92,36.22 250.65,35.25 251.10,35.10 C251.55,34.95 251.88,34.43 252.20,36.40 C252.52,38.37 252.75,43.70 253.00,46.90 C253.25,50.10 253.48,52.68 253.70,55.60 C253.92,58.52 254.05,61.47 254.30,64.40 C254.55,67.33 254.90,69.77 255.20,73.20 C255.50,76.63 255.73,81.33 256.10,85.00 C256.47,88.67 257.02,91.80 257.40,95.20 C257.78,98.60 257.97,101.98 258.40,105.40 C258.83,108.82 259.48,112.28 260.00,115.70 C260.52,119.12 260.92,122.85 261.50,125.90 C262.08,128.95 262.73,131.45 263.50,134.00 C264.27,136.55 265.15,139.40 266.10,141.20 C267.05,143.00 268.02,143.78 269.20,144.80 C270.38,145.82 271.67,146.73 273.20,147.30 C274.73,147.87 276.60,148.02 278.40,148.20 C280.20,148.38 283.07,148.37 284.00,148.40" fill="none" stroke="#b05a80" stroke-width="0.9" clip-path="url(#cb1)"/>
<line x1="191.50" y1="148.10" x2="319.30" y2="148.10" stroke="#6aaaf0" stroke-width="0.8"/>
<rect x="191.50" y="21.40" width="127.80" height="127.30" fill="none" stroke="#555" stroke-width="0.9"/>
<line x1="188.50" y1="148.70" x2="191.50" y2="148.70" stroke="#333" stroke-width="0.8"/>
<text x="186.10" y="148.90" font-size="7.4" text-anchor="end" font-weight="bold" fill="#111" font-family='"Liberation Serif", serif'>0</text>
<line x1="189.90" y1="142.63" x2="191.50" y2="142.63" stroke="#333" stroke-width="0.8"/>
<line x1="189.90" y1="136.57" x2="191.50" y2="136.57" stroke="#333" stroke-width="0.8"/>
<line x1="189.90" y1="130.50" x2="191.50" y2="130.50" stroke="#333" stroke-width="0.8"/>
<line x1="188.50" y1="124.44" x2="191.50" y2="124.44" stroke="#333" stroke-width="0.8"/>
<text x="186.10" y="128.44" font-size="7.4" text-anchor="end" font-weight="bold" fill="#111" font-family='"Liberation Serif", serif'>20</text>
<line x1="189.90" y1="118.37" x2="191.50" y2="118.37" stroke="#333" stroke-width="0.8"/>
<line x1="189.90" y1="112.31" x2="191.50" y2="112.31" stroke="#333" stroke-width="0.8"/>
<line x1="189.90" y1="106.24" x2="191.50" y2="106.24" stroke="#333" stroke-width="0.8"/>
<line x1="188.50" y1="100.18" x2="191.50" y2="100.18" stroke="#333" stroke-width="0.8"/>
<text x="186.10" y="104.18" font-size="7.4" text-anchor="end" font-weight="bold" fill="#111" font-family='"Liberation Serif", serif'>40</text>
<line x1="189.90" y1="94.11" x2="191.50" y2="94.11" stroke="#333" stroke-width="0.8"/>
<line x1="189.90" y1="88.05" x2="191.50" y2="88.05" stroke="#333" stroke-width="0.8"/>
<line x1="189.90" y1="81.98" x2="191.50" y2="81.98" stroke="#333" stroke-width="0.8"/>
<line x1="188.50" y1="75.92" x2="191.50" y2="75.92" stroke="#333" stroke-width="0.8"/>
<text x="186.10" y="79.92" font-size="7.4" text-anchor="end" font-weight="bold" fill="#111" font-family='"Liberation Serif", serif'>60</text>
<line x1="189.90" y1="69.85" x2="191.50" y2="69.85" stroke="#333" stroke-width="0.8"/>
<line x1="189.90" y1="63.79" x2="191.50" y2="63.79" stroke="#333" stroke-width="0.8"/>
<line x1="189.90" y1="57.72" x2="191.50" y2="57.72" stroke="#333" stroke-width="0.8"/>
<line x1="188.50" y1="51.66" x2="191.50" y2="51.66" stroke="#333" stroke-width="0.8"/>
<text x="186.10" y="55.66" font-size="7.4" text-anchor="end" font-weight="bold" fill="#111" font-family='"Liberation Serif", serif'>80</text>
<line x1="189.90" y1="45.59" x2="191.50" y2="45.59" stroke="#333" stroke-width="0.8"/>
<line x1="189.90" y1="39.53" x2="191.50" y2="39.53" stroke="#333" stroke-width="0.8"/>
<line x1="189.90" y1="33.46" x2="191.50" y2="33.46" stroke="#333" stroke-width="0.8"/>
<line x1="188.50" y1="27.40" x2="191.50" y2="27.40" stroke="#333" stroke-width="0.8"/>
<text x="186.10" y="31.40" font-size="7.4" text-anchor="end" font-weight="bold" fill="#111" font-family='"Liberation Serif", serif'>100</text>
<line x1="192.40" y1="148.70" x2="192.40" y2="151.00" stroke="#333" stroke-width="0.8"/>
<line x1="199.97" y1="148.70" x2="199.97" y2="150.00" stroke="#444" stroke-width="0.6"/>
<line x1="204.40" y1="148.70" x2="204.40" y2="150.00" stroke="#444" stroke-width="0.6"/>
<line x1="207.54" y1="148.70" x2="207.54" y2="150.00" stroke="#444" stroke-width="0.6"/>
<line x1="209.98" y1="148.70" x2="209.98" y2="150.00" stroke="#444" stroke-width="0.6"/>
<line x1="211.97" y1="148.70" x2="211.97" y2="150.00" stroke="#444" stroke-width="0.6"/>
<line x1="213.65" y1="148.70" x2="213.65" y2="150.00" stroke="#444" stroke-width="0.6"/>
<line x1="215.11" y1="148.70" x2="215.11" y2="150.00" stroke="#444" stroke-width="0.6"/>
<line x1="216.40" y1="148.70" x2="216.40" y2="150.00" stroke="#444" stroke-width="0.6"/>
<line x1="217.55" y1="148.70" x2="217.55" y2="151.00" stroke="#333" stroke-width="0.8"/>
<line x1="225.12" y1="148.70" x2="225.12" y2="150.00" stroke="#444" stroke-width="0.6"/>
<line x1="229.55" y1="148.70" x2="229.55" y2="150.00" stroke="#444" stroke-width="0.6"/>
<line x1="232.69" y1="148.70" x2="232.69" y2="150.00" stroke="#444" stroke-width="0.6"/>
<line x1="235.13" y1="148.70" x2="235.13" y2="150.00" stroke="#444" stroke-width="0.6"/>
<line x1="237.12" y1="148.70" x2="237.12" y2="150.00" stroke="#444" stroke-width="0.6"/>
<line x1="238.80" y1="148.70" x2="238.80" y2="150.00" stroke="#444" stroke-width="0.6"/>
<line x1="240.26" y1="148.70" x2="240.26" y2="150.00" stroke="#444" stroke-width="0.6"/>
<line x1="241.55" y1="148.70" x2="241.55" y2="150.00" stroke="#444" stroke-width="0.6"/>
<line x1="242.70" y1="148.70" x2="242.70" y2="151.00" stroke="#333" stroke-width="0.8"/>
<line x1="250.27" y1="148.70" x2="250.27" y2="150.00" stroke="#444" stroke-width="0.6"/>
<line x1="254.70" y1="148.70" x2="254.70" y2="150.00" stroke="#444" stroke-width="0.6"/>
<line x1="257.84" y1="148.70" x2="257.84" y2="150.00" stroke="#444" stroke-width="0.6"/>
<line x1="260.28" y1="148.70" x2="260.28" y2="150.00" stroke="#444" stroke-width="0.6"/>
<line x1="262.27" y1="148.70" x2="262.27" y2="150.00" stroke="#444" stroke-width="0.6"/>
<line x1="263.95" y1="148.70" x2="263.95" y2="150.00" stroke="#444" stroke-width="0.6"/>
<line x1="265.41" y1="148.70" x2="265.41" y2="150.00" stroke="#444" stroke-width="0.6"/>
<line x1="266.70" y1="148.70" x2="266.70" y2="150.00" stroke="#444" stroke-width="0.6"/>
<line x1="267.85" y1="148.70" x2="267.85" y2="151.00" stroke="#333" stroke-width="0.8"/>
<line x1="275.42" y1="148.70" x2="275.42" y2="150.00" stroke="#444" stroke-width="0.6"/>
<line x1="279.85" y1="148.70" x2="279.85" y2="150.00" stroke="#444" stroke-width="0.6"/>
<line x1="282.99" y1="148.70" x2="282.99" y2="150.00" stroke="#444" stroke-width="0.6"/>
<line x1="285.43" y1="148.70" x2="285.43" y2="150.00" stroke="#444" stroke-width="0.6"/>
<line x1="287.42" y1="148.70" x2="287.42" y2="150.00" stroke="#444" stroke-width="0.6"/>
<line x1="289.10" y1="148.70" x2="289.10" y2="150.00" stroke="#444" stroke-width="0.6"/>
<line x1="290.56" y1="148.70" x2="290.56" y2="150.00" stroke="#444" stroke-width="0.6"/>
<line x1="291.85" y1="148.70" x2="291.85" y2="150.00" stroke="#444" stroke-width="0.6"/>
<line x1="293.00" y1="148.70" x2="293.00" y2="151.00" stroke="#333" stroke-width="0.8"/>
<line x1="300.57" y1="148.70" x2="300.57" y2="150.00" stroke="#444" stroke-width="0.6"/>
<line x1="305.00" y1="148.70" x2="305.00" y2="150.00" stroke="#444" stroke-width="0.6"/>
<line x1="308.14" y1="148.70" x2="308.14" y2="150.00" stroke="#444" stroke-width="0.6"/>
<line x1="310.58" y1="148.70" x2="310.58" y2="150.00" stroke="#444" stroke-width="0.6"/>
<line x1="312.57" y1="148.70" x2="312.57" y2="150.00" stroke="#444" stroke-width="0.6"/>
<line x1="314.25" y1="148.70" x2="314.25" y2="150.00" stroke="#444" stroke-width="0.6"/>
<line x1="315.71" y1="148.70" x2="315.71" y2="150.00" stroke="#444" stroke-width="0.6"/>
<line x1="317.00" y1="148.70" x2="317.00" y2="150.00" stroke="#444" stroke-width="0.6"/>
<line x1="318.15" y1="148.70" x2="318.15" y2="151.00" stroke="#333" stroke-width="0.8"/>
<text x="197.60" y="165.5" font-size="7.8" text-anchor="middle" font-weight="bold" fill="#111" font-family='"Liberation Serif", serif'>10</text>
<text x="202.00" y="160.0" font-size="6.8" text-anchor="start" font-weight="bold" fill="#111" font-family='"Liberation Serif", serif'>1</text>
<text x="217.65" y="165.5" font-size="7.8" text-anchor="middle" font-weight="bold" fill="#111" font-family='"Liberation Serif", serif'>10</text>
<text x="222.05" y="160.0" font-size="6.8" text-anchor="start" font-weight="bold" fill="#111" font-family='"Liberation Serif", serif'>2</text>
<text x="242.80" y="165.5" font-size="7.8" text-anchor="middle" font-weight="bold" fill="#111" font-family='"Liberation Serif", serif'>10</text>
<text x="247.20" y="160.0" font-size="6.8" text-anchor="start" font-weight="bold" fill="#111" font-family='"Liberation Serif", serif'>3</text>
<text x="267.95" y="165.5" font-size="7.8" text-anchor="middle" font-weight="bold" fill="#111" font-family='"Liberation Serif", serif'>10</text>
<text x="272.35" y="160.0" font-size="6.8" text-anchor="start" font-weight="bold" fill="#111" font-family='"Liberation Serif", serif'>4</text>
<text x="293.30" y="165.5" font-size="7.8" text-anchor="middle" font-weight="bold" fill="#111" font-family='"Liberation Serif", serif'>10</text>
<text x="297.70" y="160.0" font-size="6.8" text-anchor="start" font-weight="bold" fill="#111" font-family='"Liberation Serif", serif'>5</text>
<text x="312.85" y="165.5" font-size="7.8" text-anchor="middle" font-weight="bold" fill="#111" font-family='"Liberation Serif", serif'>10</text>
<text x="317.25" y="160.0" font-size="6.8" text-anchor="start" font-weight="bold" fill="#111" font-family='"Liberation Serif", serif'>6</text>
<text x="254.70" y="176.80" font-size="8.3" text-anchor="middle" font-weight="bold" fill="#111" font-family='"Liberation Serif", serif'>FL2</text>
<line x1="249.90" y1="67.20" x2="312.90" y2="67.20" stroke="#151515" stroke-width="1.1"/>
<line x1="249.90" y1="64.60" x2="249.90" y2="69.80" stroke="#151515" stroke-width="1.1"/>
<line x1="312.90" y1="64.60" x2="312.90" y2="69.80" stroke="#151515" stroke-width="1.1"/>
<text x="281.10" y="46.90" font-size="8.7" text-anchor="middle" font-weight="bold" fill="#111" font-family='"Liberation Serif", serif'>GPC3</text>
<text x="281.10" y="58.40" font-size="8.7" text-anchor="middle" font-weight="bold" fill="#111" font-family='"Liberation Serif", serif'>43.4</text>
<text x="410.50" y="14.40" font-size="11.2" text-anchor="middle" font-weight="bold" fill="#111" font-family='"Liberation Serif", serif'>Huh-7</text>
<path d="M380.00,148.40 C380.88,148.38 383.98,148.65 385.30,148.30 C386.62,147.95 387.13,147.48 387.90,146.30 C388.67,145.12 389.30,143.58 389.90,141.20 C390.50,138.82 390.98,135.40 391.50,132.00 C392.02,128.60 392.50,125.23 393.00,120.80 C393.50,116.37 394.07,110.87 394.50,105.40 C394.93,99.93 395.30,93.37 395.60,88.00 C395.90,82.63 396.07,77.87 396.30,73.20 C396.53,68.53 396.75,64.38 397.00,60.00 C397.25,55.62 397.52,50.55 397.80,46.90 C398.08,43.25 398.33,40.87 398.70,38.10 C399.07,35.33 399.57,30.30 400.00,30.30 C400.43,30.30 400.93,34.60 401.30,38.10 C401.67,41.60 401.90,46.92 402.20,51.30 C402.50,55.68 402.80,60.32 403.10,64.40 C403.40,68.48 403.72,72.03 404.00,75.80 C404.28,79.57 404.50,82.07 404.80,87.00 C405.10,91.93 405.43,99.77 405.80,105.40 C406.17,111.03 406.58,116.53 407.00,120.80 C407.42,125.07 407.73,127.93 408.30,131.00 C408.87,134.07 409.63,136.98 410.40,139.20 C411.17,141.42 411.97,143.03 412.90,144.30 C413.83,145.57 414.80,146.15 416.00,146.80 C417.20,147.45 418.60,147.93 420.10,148.20 C421.60,148.47 424.18,148.37 425.00,148.40 L425.00,148.70 L380.00,148.70 Z" fill="#fdabab"/>
<path d="M372.00,148.40 C372.67,148.38 374.80,148.38 376.00,148.30 C377.20,148.22 378.33,148.07 379.20,147.90 C380.07,147.73 380.43,148.42 381.20,147.30 C381.97,146.18 383.12,143.58 383.80,141.20 C384.48,138.82 384.88,136.40 385.30,133.00 C385.72,129.60 385.95,125.40 386.30,120.80 C386.65,116.20 387.08,111.37 387.40,105.40 C387.72,99.43 388.03,89.65 388.20,85.00 C388.37,80.35 388.28,80.93 388.40,77.50 C388.52,74.07 388.72,68.77 388.90,64.40 C389.08,60.03 389.25,55.68 389.50,51.30 C389.75,46.92 390.08,41.68 390.40,38.10 C390.72,34.52 391.03,29.80 391.40,29.80 C391.77,29.80 392.22,35.25 392.60,38.10 C392.98,40.95 393.37,44.70 393.70,46.90 C394.03,49.10 394.40,48.38 394.60,51.30 C394.80,54.22 394.78,60.03 394.90,64.40 C395.02,68.77 395.18,74.07 395.30,77.50 C395.42,80.93 395.47,80.35 395.60,85.00 C395.73,89.65 395.85,99.78 396.10,105.40 C396.35,111.02 396.68,114.43 397.10,118.70 C397.52,122.97 398.00,127.58 398.60,131.00 C399.20,134.42 399.93,136.90 400.70,139.20 C401.47,141.50 402.27,143.37 403.20,144.80 C404.13,146.23 405.17,147.20 406.30,147.80 C407.43,148.40 409.38,148.30 410.00,148.40 L410.00,148.70 L372.00,148.70 Z" fill="#badcfc"/>
<path d="M380.00,148.40 C380.88,148.38 383.98,148.65 385.30,148.30 C386.62,147.95 387.13,147.48 387.90,146.30 C388.67,145.12 389.30,143.58 389.90,141.20 C390.50,138.82 390.98,135.40 391.50,132.00 C392.02,128.60 392.50,125.23 393.00,120.80 C393.50,116.37 394.07,110.87 394.50,105.40 C394.93,99.93 395.30,93.37 395.60,88.00 C395.90,82.63 396.07,77.87 396.30,73.20 C396.53,68.53 396.75,64.38 397.00,60.00 C397.25,55.62 397.52,50.55 397.80,46.90 C398.08,43.25 398.33,40.87 398.70,38.10 C399.07,35.33 399.57,30.30 400.00,30.30 C400.43,30.30 400.93,34.60 401.30,38.10 C401.67,41.60 401.90,46.92 402.20,51.30 C402.50,55.68 402.80,60.32 403.10,64.40 C403.40,68.48 403.72,72.03 404.00,75.80 C404.28,79.57 404.50,82.07 404.80,87.00 C405.10,91.93 405.43,99.77 405.80,105.40 C406.17,111.03 406.58,116.53 407.00,120.80 C407.42,125.07 407.73,127.93 408.30,131.00 C408.87,134.07 409.63,136.98 410.40,139.20 C411.17,141.42 411.97,143.03 412.90,144.30 C413.83,145.57 414.80,146.15 416.00,146.80 C417.20,147.45 418.60,147.93 420.10,148.20 C421.60,148.47 424.18,148.37 425.00,148.40 L425.00,148.70 L380.00,148.70 Z" fill="#b6a8cc" clip-path="url(#cb2)"/>
<path d="M380.00,148.40 C380.88,148.38 383.98,148.65 385.30,148.30 C386.62,147.95 387.13,147.48 387.90,146.30 C388.67,145.12 389.30,143.58 389.90,141.20 C390.50,138.82 390.98,135.40 391.50,132.00 C392.02,128.60 392.50,125.23 393.00,120.80 C393.50,116.37 394.07,110.87 394.50,105.40 C394.93,99.93 395.30,93.37 395.60,88.00 C395.90,82.63 396.07,77.87 396.30,73.20 C396.53,68.53 396.75,64.38 397.00,60.00 C397.25,55.62 397.52,50.55 397.80,46.90 C398.08,43.25 398.33,40.87 398.70,38.10 C399.07,35.33 399.57,30.30 400.00,30.30 C400.43,30.30 400.93,34.60 401.30,38.10 C401.67,41.60 401.90,46.92 402.20,51.30 C402.50,55.68 402.80,60.32 403.10,64.40 C403.40,68.48 403.72,72.03 404.00,75.80 C404.28,79.57 404.50,82.07 404.80,87.00 C405.10,91.93 405.43,99.77 405.80,105.40 C406.17,111.03 406.58,116.53 407.00,120.80 C407.42,125.07 407.73,127.93 408.30,131.00 C408.87,134.07 409.63,136.98 410.40,139.20 C411.17,141.42 411.97,143.03 412.90,144.30 C413.83,145.57 414.80,146.15 416.00,146.80 C417.20,147.45 418.60,147.93 420.10,148.20 C421.60,148.47 424.18,148.37 425.00,148.40" fill="none" stroke="#ee3030" stroke-width="0.9"/>
<path d="M372.00,148.40 C372.67,148.38 374.80,148.38 376.00,148.30 C377.20,148.22 378.33,148.07 379.20,147.90 C380.07,147.73 380.43,148.42 381.20,147.30 C381.97,146.18 383.12,143.58 383.80,141.20 C384.48,138.82 384.88,136.40 385.30,133.00 C385.72,129.60 385.95,125.40 386.30,120.80 C386.65,116.20 387.08,111.37 387.40,105.40 C387.72,99.43 388.03,89.65 388.20,85.00 C388.37,80.35 388.28,80.93 388.40,77.50 C388.52,74.07 388.72,68.77 388.90,64.40 C389.08,60.03 389.25,55.68 389.50,51.30 C389.75,46.92 390.08,41.68 390.40,38.10 C390.72,34.52 391.03,29.80 391.40,29.80 C391.77,29.80 392.22,35.25 392.60,38.10 C392.98,40.95 393.37,44.70 393.70,46.90 C394.03,49.10 394.40,48.38 394.60,51.30 C394.80,54.22 394.78,60.03 394.90,64.40 C395.02,68.77 395.18,74.07 395.30,77.50 C395.42,80.93 395.47,80.35 395.60,85.00 C395.73,89.65 395.85,99.78 396.10,105.40 C396.35,111.02 396.68,114.43 397.10,118.70 C397.52,122.97 398.00,127.58 398.60,131.00 C399.20,134.42 399.93,136.90 400.70,139.20 C401.47,141.50 402.27,143.37 403.20,144.80 C404.13,146.23 405.17,147.20 406.30,147.80 C407.43,148.40 409.38,148.30 410.00,148.40" fill="none" stroke="#5aa6f4" stroke-width="0.9"/>
<path d="M380.00,148.40 C380.88,148.38 383.98,148.65 385.30,148.30 C386.62,147.95 387.13,147.48 387.90,146.30 C388.67,145.12 389.30,143.58 389.90,141.20 C390.50,138.82 390.98,135.40 391.50,132.00 C392.02,128.60 392.50,125.23 393.00,120.80 C393.50,116.37 394.07,110.87 394.50,105.40 C394.93,99.93 395.30,93.37 395.60,88.00 C395.90,82.63 396.07,77.87 396.30,73.20 C396.53,68.53 396.75,64.38 397.00,60.00 C397.25,55.62 397.52,50.55 397.80,46.90 C398.08,43.25 398.33,40.87 398.70,38.10 C399.07,35.33 399.57,30.30 400.00,30.30 C400.43,30.30 400.93,34.60 401.30,38.10 C401.67,41.60 401.90,46.92 402.20,51.30 C402.50,55.68 402.80,60.32 403.10,64.40 C403.40,68.48 403.72,72.03 404.00,75.80 C404.28,79.57 404.50,82.07 404.80,87.00 C405.10,91.93 405.43,99.77 405.80,105.40 C406.17,111.03 406.58,116.53 407.00,120.80 C407.42,125.07 407.73,127.93 408.30,131.00 C408.87,134.07 409.63,136.98 410.40,139.20 C411.17,141.42 411.97,143.03 412.90,144.30 C413.83,145.57 414.80,146.15 416.00,146.80 C417.20,147.45 418.60,147.93 420.10,148.20 C421.60,148.47 424.18,148.37 425.00,148.40" fill="none" stroke="#b05a80" stroke-width="0.9" clip-path="url(#cb2)"/>
<line x1="347.80" y1="148.10" x2="475.80" y2="148.10" stroke="#6aaaf0" stroke-width="0.8"/>
<rect x="347.80" y="21.40" width="128.00" height="127.30" fill="none" stroke="#555" stroke-width="0.9"/>
<line x1="344.80" y1="148.70" x2="347.80" y2="148.70" stroke="#333" stroke-width="0.8"/>
<text x="342.40" y="148.90" font-size="7.4" text-anchor="end" font-weight="bold" fill="#111" font-family='"Liberation Serif", serif'>0</text>
<line x1="346.20" y1="142.63" x2="347.80" y2="142.63" stroke="#333" stroke-width="0.8"/>
<line x1="346.20" y1="136.57" x2="347.80" y2="136.57" stroke="#333" stroke-width="0.8"/>
<line x1="346.20" y1="130.50" x2="347.80" y2="130.50" stroke="#333" stroke-width="0.8"/>
<line x1="344.80" y1="124.44" x2="347.80" y2="124.44" stroke="#333" stroke-width="0.8"/>
<text x="342.40" y="128.44" font-size="7.4" text-anchor="end" font-weight="bold" fill="#111" font-family='"Liberation Serif", serif'>20</text>
<line x1="346.20" y1="118.37" x2="347.80" y2="118.37" stroke="#333" stroke-width="0.8"/>
<line x1="346.20" y1="112.31" x2="347.80" y2="112.31" stroke="#333" stroke-width="0.8"/>
<line x1="346.20" y1="106.24" x2="347.80" y2="106.24" stroke="#333" stroke-width="0.8"/>
<line x1="344.80" y1="100.18" x2="347.80" y2="100.18" stroke="#333" stroke-width="0.8"/>
<text x="342.40" y="104.18" font-size="7.4" text-anchor="end" font-weight="bold" fill="#111" font-family='"Liberation Serif", serif'>40</text>
<line x1="346.20" y1="94.11" x2="347.80" y2="94.11" stroke="#333" stroke-width="0.8"/>
<line x1="346.20" y1="88.05" x2="347.80" y2="88.05" stroke="#333" stroke-width="0.8"/>
<line x1="346.20" y1="81.98" x2="347.80" y2="81.98" stroke="#333" stroke-width="0.8"/>
<line x1="344.80" y1="75.92" x2="347.80" y2="75.92" stroke="#333" stroke-width="0.8"/>
<text x="342.40" y="79.92" font-size="7.4" text-anchor="end" font-weight="bold" fill="#111" font-family='"Liberation Serif", serif'>60</text>
<line x1="346.20" y1="69.85" x2="347.80" y2="69.85" stroke="#333" stroke-width="0.8"/>
<line x1="346.20" y1="63.79" x2="347.80" y2="63.79" stroke="#333" stroke-width="0.8"/>
<line x1="346.20" y1="57.72" x2="347.80" y2="57.72" stroke="#333" stroke-width="0.8"/>
<line x1="344.80" y1="51.66" x2="347.80" y2="51.66" stroke="#333" stroke-width="0.8"/>
<text x="342.40" y="55.66" font-size="7.4" text-anchor="end" font-weight="bold" fill="#111" font-family='"Liberation Serif", serif'>80</text>
<line x1="346.20" y1="45.59" x2="347.80" y2="45.59" stroke="#333" stroke-width="0.8"/>
<line x1="346.20" y1="39.53" x2="347.80" y2="39.53" stroke="#333" stroke-width="0.8"/>
<line x1="346.20" y1="33.46" x2="347.80" y2="33.46" stroke="#333" stroke-width="0.8"/>
<line x1="344.80" y1="27.40" x2="347.80" y2="27.40" stroke="#333" stroke-width="0.8"/>
<text x="342.40" y="31.40" font-size="7.4" text-anchor="end" font-weight="bold" fill="#111" font-family='"Liberation Serif", serif'>100</text>
<line x1="348.70" y1="148.70" x2="348.70" y2="151.00" stroke="#333" stroke-width="0.8"/>
<line x1="356.27" y1="148.70" x2="356.27" y2="150.00" stroke="#444" stroke-width="0.6"/>
<line x1="360.70" y1="148.70" x2="360.70" y2="150.00" stroke="#444" stroke-width="0.6"/>
<line x1="363.84" y1="148.70" x2="363.84" y2="150.00" stroke="#444" stroke-width="0.6"/>
<line x1="366.28" y1="148.70" x2="366.28" y2="150.00" stroke="#444" stroke-width="0.6"/>
<line x1="368.27" y1="148.70" x2="368.27" y2="150.00" stroke="#444" stroke-width="0.6"/>
<line x1="369.95" y1="148.70" x2="369.95" y2="150.00" stroke="#444" stroke-width="0.6"/>
<line x1="371.41" y1="148.70" x2="371.41" y2="150.00" stroke="#444" stroke-width="0.6"/>
<line x1="372.70" y1="148.70" x2="372.70" y2="150.00" stroke="#444" stroke-width="0.6"/>
<line x1="373.85" y1="148.70" x2="373.85" y2="151.00" stroke="#333" stroke-width="0.8"/>
<line x1="381.42" y1="148.70" x2="381.42" y2="150.00" stroke="#444" stroke-width="0.6"/>
<line x1="385.85" y1="148.70" x2="385.85" y2="150.00" stroke="#444" stroke-width="0.6"/>
<line x1="388.99" y1="148.70" x2="388.99" y2="150.00" stroke="#444" stroke-width="0.6"/>
<line x1="391.43" y1="148.70" x2="391.43" y2="150.00" stroke="#444" stroke-width="0.6"/>
<line x1="393.42" y1="148.70" x2="393.42" y2="150.00" stroke="#444" stroke-width="0.6"/>
<line x1="395.10" y1="148.70" x2="395.10" y2="150.00" stroke="#444" stroke-width="0.6"/>
<line x1="396.56" y1="148.70" x2="396.56" y2="150.00" stroke="#444" stroke-width="0.6"/>
<line x1="397.85" y1="148.70" x2="397.85" y2="150.00" stroke="#444" stroke-width="0.6"/>
<line x1="399.00" y1="148.70" x2="399.00" y2="151.00" stroke="#333" stroke-width="0.8"/>
<line x1="406.57" y1="148.70" x2="406.57" y2="150.00" stroke="#444" stroke-width="0.6"/>
<line x1="411.00" y1="148.70" x2="411.00" y2="150.00" stroke="#444" stroke-width="0.6"/>
<line x1="414.14" y1="148.70" x2="414.14" y2="150.00" stroke="#444" stroke-width="0.6"/>
<line x1="416.58" y1="148.70" x2="416.58" y2="150.00" stroke="#444" stroke-width="0.6"/>
<line x1="418.57" y1="148.70" x2="418.57" y2="150.00" stroke="#444" stroke-width="0.6"/>
<line x1="420.25" y1="148.70" x2="420.25" y2="150.00" stroke="#444" stroke-width="0.6"/>
<line x1="421.71" y1="148.70" x2="421.71" y2="150.00" stroke="#444" stroke-width="0.6"/>
<line x1="423.00" y1="148.70" x2="423.00" y2="150.00" stroke="#444" stroke-width="0.6"/>
<line x1="424.15" y1="148.70" x2="424.15" y2="151.00" stroke="#333" stroke-width="0.8"/>
<line x1="431.72" y1="148.70" x2="431.72" y2="150.00" stroke="#444" stroke-width="0.6"/>
<line x1="436.15" y1="148.70" x2="436.15" y2="150.00" stroke="#444" stroke-width="0.6"/>
<line x1="439.29" y1="148.70" x2="439.29" y2="150.00" stroke="#444" stroke-width="0.6"/>
<line x1="441.73" y1="148.70" x2="441.73" y2="150.00" stroke="#444" stroke-width="0.6"/>
<line x1="443.72" y1="148.70" x2="443.72" y2="150.00" stroke="#444" stroke-width="0.6"/>
<line x1="445.40" y1="148.70" x2="445.40" y2="150.00" stroke="#444" stroke-width="0.6"/>
<line x1="446.86" y1="148.70" x2="446.86" y2="150.00" stroke="#444" stroke-width="0.6"/>
<line x1="448.15" y1="148.70" x2="448.15" y2="150.00" stroke="#444" stroke-width="0.6"/>
<line x1="449.30" y1="148.70" x2="449.30" y2="151.00" stroke="#333" stroke-width="0.8"/>
<line x1="456.87" y1="148.70" x2="456.87" y2="150.00" stroke="#444" stroke-width="0.6"/>
<line x1="461.30" y1="148.70" x2="461.30" y2="150.00" stroke="#444" stroke-width="0.6"/>
<line x1="464.44" y1="148.70" x2="464.44" y2="150.00" stroke="#444" stroke-width="0.6"/>
<line x1="466.88" y1="148.70" x2="466.88" y2="150.00" stroke="#444" stroke-width="0.6"/>
<line x1="468.87" y1="148.70" x2="468.87" y2="150.00" stroke="#444" stroke-width="0.6"/>
<line x1="470.55" y1="148.70" x2="470.55" y2="150.00" stroke="#444" stroke-width="0.6"/>
<line x1="472.01" y1="148.70" x2="472.01" y2="150.00" stroke="#444" stroke-width="0.6"/>
<line x1="473.30" y1="148.70" x2="473.30" y2="150.00" stroke="#444" stroke-width="0.6"/>
<line x1="474.45" y1="148.70" x2="474.45" y2="151.00" stroke="#333" stroke-width="0.8"/>
<text x="353.90" y="165.5" font-size="7.8" text-anchor="middle" font-weight="bold" fill="#111" font-family='"Liberation Serif", serif'>10</text>
<text x="358.30" y="160.0" font-size="6.8" text-anchor="start" font-weight="bold" fill="#111" font-family='"Liberation Serif", serif'>1</text>
<text x="373.95" y="165.5" font-size="7.8" text-anchor="middle" font-weight="bold" fill="#111" font-family='"Liberation Serif", serif'>10</text>
<text x="378.35" y="160.0" font-size="6.8" text-anchor="start" font-weight="bold" fill="#111" font-family='"Liberation Serif", serif'>2</text>
<text x="399.10" y="165.5" font-size="7.8" text-anchor="middle" font-weight="bold" fill="#111" font-family='"Liberation Serif", serif'>10</text>
<text x="403.50" y="160.0" font-size="6.8" text-anchor="start" font-weight="bold" fill="#111" font-family='"Liberation Serif", serif'>3</text>
<text x="424.25" y="165.5" font-size="7.8" text-anchor="middle" font-weight="bold" fill="#111" font-family='"Liberation Serif", serif'>10</text>
<text x="428.65" y="160.0" font-size="6.8" text-anchor="start" font-weight="bold" fill="#111" font-family='"Liberation Serif", serif'>4</text>
<text x="449.60" y="165.5" font-size="7.8" text-anchor="middle" font-weight="bold" fill="#111" font-family='"Liberation Serif", serif'>10</text>
<text x="454.00" y="160.0" font-size="6.8" text-anchor="start" font-weight="bold" fill="#111" font-family='"Liberation Serif", serif'>5</text>
<text x="469.15" y="165.5" font-size="7.8" text-anchor="middle" font-weight="bold" fill="#111" font-family='"Liberation Serif", serif'>10</text>
<text x="473.55" y="160.0" font-size="6.8" text-anchor="start" font-weight="bold" fill="#111" font-family='"Liberation Serif", serif'>6</text>
<text x="411.00" y="176.80" font-size="8.3" text-anchor="middle" font-weight="bold" fill="#111" font-family='"Liberation Serif", serif'>FL2</text>
<line x1="406.50" y1="67.20" x2="469.30" y2="67.20" stroke="#151515" stroke-width="1.1"/>
<line x1="406.50" y1="64.60" x2="406.50" y2="69.80" stroke="#151515" stroke-width="1.1"/>
<line x1="469.30" y1="64.60" x2="469.30" y2="69.80" stroke="#151515" stroke-width="1.1"/>
<text x="437.50" y="46.90" font-size="8.7" text-anchor="middle" font-weight="bold" fill="#111" font-family='"Liberation Serif", serif'>GPC3</text>
<text x="437.50" y="58.40" font-size="8.7" text-anchor="middle" font-weight="bold" fill="#111" font-family='"Liberation Serif", serif'>8.89</text>
<text x="571.30" y="14.40" font-size="11.2" text-anchor="middle" font-weight="bold" fill="#111" font-family='"Liberation Serif", serif'>Sk-hep-1</text>
<path d="M524.00,148.40 C524.88,148.37 527.73,148.72 529.30,148.20 C530.87,147.68 532.28,146.63 533.40,145.30 C534.52,143.97 535.23,142.42 536.00,140.20 C536.77,137.98 537.42,135.23 538.00,132.00 C538.58,128.77 538.98,125.23 539.50,120.80 C540.02,116.37 540.60,111.03 541.10,105.40 C541.60,99.77 542.10,91.93 542.50,87.00 C542.90,82.07 543.17,79.57 543.50,75.80 C543.83,72.03 544.12,68.48 544.50,64.40 C544.88,60.32 545.37,55.68 545.80,51.30 C546.23,46.92 546.65,41.17 547.10,38.10 C547.55,35.03 548.08,34.07 548.50,32.90 C548.92,31.73 549.25,30.95 549.60,31.10 C549.95,31.25 550.20,31.90 550.60,33.80 C551.00,35.70 551.58,39.58 552.00,42.50 C552.42,45.42 552.73,48.08 553.10,51.30 C553.47,54.52 553.90,58.45 554.20,61.80 C554.50,65.15 554.67,67.20 554.90,71.40 C555.13,75.60 555.27,81.33 555.60,87.00 C555.93,92.67 556.43,99.77 556.90,105.40 C557.37,111.03 557.88,116.53 558.40,120.80 C558.92,125.07 559.40,127.93 560.00,131.00 C560.60,134.07 561.23,136.98 562.00,139.20 C562.77,141.42 563.58,142.95 564.60,144.30 C565.62,145.65 566.83,146.65 568.10,147.30 C569.37,147.95 570.55,148.02 572.20,148.20 C573.85,148.38 577.03,148.37 578.00,148.40 L578.00,148.70 L524.00,148.70 Z" fill="#fdabab"/>
<path d="M528.00,148.40 C528.98,148.38 532.57,148.48 533.90,148.30 C535.23,148.12 535.23,148.32 536.00,147.30 C536.77,146.28 537.75,144.58 538.50,142.20 C539.25,139.82 539.95,136.57 540.50,133.00 C541.05,129.43 541.42,125.40 541.80,120.80 C542.18,116.20 542.47,111.03 542.80,105.40 C543.13,99.77 543.55,91.65 543.80,87.00 C544.05,82.35 544.10,81.27 544.30,77.50 C544.50,73.73 544.78,68.77 545.00,64.40 C545.22,60.03 545.38,55.68 545.60,51.30 C545.82,46.92 546.02,41.83 546.30,38.10 C546.58,34.37 546.93,28.90 547.30,28.90 C547.67,28.90 548.17,35.10 548.50,38.10 C548.83,41.10 549.02,43.25 549.30,46.90 C549.58,50.55 549.95,55.62 550.20,60.00 C550.45,64.38 550.58,68.70 550.80,73.20 C551.02,77.70 551.20,81.63 551.50,87.00 C551.80,92.37 552.22,99.77 552.60,105.40 C552.98,111.03 553.33,116.20 553.80,120.80 C554.27,125.40 554.80,129.60 555.40,133.00 C556.00,136.40 556.63,138.98 557.40,141.20 C558.17,143.42 559.07,145.15 560.00,146.30 C560.93,147.45 561.67,147.75 563.00,148.10 C564.33,148.45 567.17,148.35 568.00,148.40 L568.00,148.70 L528.00,148.70 Z" fill="#badcfc"/>
<path d="M524.00,148.40 C524.88,148.37 527.73,148.72 529.30,148.20 C530.87,147.68 532.28,146.63 533.40,145.30 C534.52,143.97 535.23,142.42 536.00,140.20 C536.77,137.98 537.42,135.23 538.00,132.00 C538.58,128.77 538.98,125.23 539.50,120.80 C540.02,116.37 540.60,111.03 541.10,105.40 C541.60,99.77 542.10,91.93 542.50,87.00 C542.90,82.07 543.17,79.57 543.50,75.80 C543.83,72.03 544.12,68.48 544.50,64.40 C544.88,60.32 545.37,55.68 545.80,51.30 C546.23,46.92 546.65,41.17 547.10,38.10 C547.55,35.03 548.08,34.07 548.50,32.90 C548.92,31.73 549.25,30.95 549.60,31.10 C549.95,31.25 550.20,31.90 550.60,33.80 C551.00,35.70 551.58,39.58 552.00,42.50 C552.42,45.42 552.73,48.08 553.10,51.30 C553.47,54.52 553.90,58.45 554.20,61.80 C554.50,65.15 554.67,67.20 554.90,71.40 C555.13,75.60 555.27,81.33 555.60,87.00 C555.93,92.67 556.43,99.77 556.90,105.40 C557.37,111.03 557.88,116.53 558.40,120.80 C558.92,125.07 559.40,127.93 560.00,131.00 C560.60,134.07 561.23,136.98 562.00,139.20 C562.77,141.42 563.58,142.95 564.60,144.30 C565.62,145.65 566.83,146.65 568.10,147.30 C569.37,147.95 570.55,148.02 572.20,148.20 C573.85,148.38 577.03,148.37 578.00,148.40 L578.00,148.70 L524.00,148.70 Z" fill="#b6a8cc" clip-path="url(#cb3)"/>
<path d="M524.00,148.40 C524.88,148.37 527.73,148.72 529.30,148.20 C530.87,147.68 532.28,146.63 533.40,145.30 C534.52,143.97 535.23,142.42 536.00,140.20 C536.77,137.98 537.42,135.23 538.00,132.00 C538.58,128.77 538.98,125.23 539.50,120.80 C540.02,116.37 540.60,111.03 541.10,105.40 C541.60,99.77 542.10,91.93 542.50,87.00 C542.90,82.07 543.17,79.57 543.50,75.80 C543.83,72.03 544.12,68.48 544.50,64.40 C544.88,60.32 545.37,55.68 545.80,51.30 C546.23,46.92 546.65,41.17 547.10,38.10 C547.55,35.03 548.08,34.07 548.50,32.90 C548.92,31.73 549.25,30.95 549.60,31.10 C549.95,31.25 550.20,31.90 550.60,33.80 C551.00,35.70 551.58,39.58 552.00,42.50 C552.42,45.42 552.73,48.08 553.10,51.30 C553.47,54.52 553.90,58.45 554.20,61.80 C554.50,65.15 554.67,67.20 554.90,71.40 C555.13,75.60 555.27,81.33 555.60,87.00 C555.93,92.67 556.43,99.77 556.90,105.40 C557.37,111.03 557.88,116.53 558.40,120.80 C558.92,125.07 559.40,127.93 560.00,131.00 C560.60,134.07 561.23,136.98 562.00,139.20 C562.77,141.42 563.58,142.95 564.60,144.30 C565.62,145.65 566.83,146.65 568.10,147.30 C569.37,147.95 570.55,148.02 572.20,148.20 C573.85,148.38 577.03,148.37 578.00,148.40" fill="none" stroke="#ee3030" stroke-width="0.9"/>
<path d="M528.00,148.40 C528.98,148.38 532.57,148.48 533.90,148.30 C535.23,148.12 535.23,148.32 536.00,147.30 C536.77,146.28 537.75,144.58 538.50,142.20 C539.25,139.82 539.95,136.57 540.50,133.00 C541.05,129.43 541.42,125.40 541.80,120.80 C542.18,116.20 542.47,111.03 542.80,105.40 C543.13,99.77 543.55,91.65 543.80,87.00 C544.05,82.35 544.10,81.27 544.30,77.50 C544.50,73.73 544.78,68.77 545.00,64.40 C545.22,60.03 545.38,55.68 545.60,51.30 C545.82,46.92 546.02,41.83 546.30,38.10 C546.58,34.37 546.93,28.90 547.30,28.90 C547.67,28.90 548.17,35.10 548.50,38.10 C548.83,41.10 549.02,43.25 549.30,46.90 C549.58,50.55 549.95,55.62 550.20,60.00 C550.45,64.38 550.58,68.70 550.80,73.20 C551.02,77.70 551.20,81.63 551.50,87.00 C551.80,92.37 552.22,99.77 552.60,105.40 C552.98,111.03 553.33,116.20 553.80,120.80 C554.27,125.40 554.80,129.60 555.40,133.00 C556.00,136.40 556.63,138.98 557.40,141.20 C558.17,143.42 559.07,145.15 560.00,146.30 C560.93,147.45 561.67,147.75 563.00,148.10 C564.33,148.45 567.17,148.35 568.00,148.40" fill="none" stroke="#5aa6f4" stroke-width="0.9"/>
<path d="M524.00,148.40 C524.88,148.37 527.73,148.72 529.30,148.20 C530.87,147.68 532.28,146.63 533.40,145.30 C534.52,143.97 535.23,142.42 536.00,140.20 C536.77,137.98 537.42,135.23 538.00,132.00 C538.58,128.77 538.98,125.23 539.50,120.80 C540.02,116.37 540.60,111.03 541.10,105.40 C541.60,99.77 542.10,91.93 542.50,87.00 C542.90,82.07 543.17,79.57 543.50,75.80 C543.83,72.03 544.12,68.48 544.50,64.40 C544.88,60.32 545.37,55.68 545.80,51.30 C546.23,46.92 546.65,41.17 547.10,38.10 C547.55,35.03 548.08,34.07 548.50,32.90 C548.92,31.73 549.25,30.95 549.60,31.10 C549.95,31.25 550.20,31.90 550.60,33.80 C551.00,35.70 551.58,39.58 552.00,42.50 C552.42,45.42 552.73,48.08 553.10,51.30 C553.47,54.52 553.90,58.45 554.20,61.80 C554.50,65.15 554.67,67.20 554.90,71.40 C555.13,75.60 555.27,81.33 555.60,87.00 C555.93,92.67 556.43,99.77 556.90,105.40 C557.37,111.03 557.88,116.53 558.40,120.80 C558.92,125.07 559.40,127.93 560.00,131.00 C560.60,134.07 561.23,136.98 562.00,139.20 C562.77,141.42 563.58,142.95 564.60,144.30 C565.62,145.65 566.83,146.65 568.10,147.30 C569.37,147.95 570.55,148.02 572.20,148.20 C573.85,148.38 577.03,148.37 578.00,148.40" fill="none" stroke="#b05a80" stroke-width="0.9" clip-path="url(#cb3)"/>
<line x1="503.30" y1="148.10" x2="632.00" y2="148.10" stroke="#6aaaf0" stroke-width="0.8"/>
<rect x="503.30" y="21.40" width="128.70" height="127.30" fill="none" stroke="#555" stroke-width="0.9"/>
<line x1="500.30" y1="148.70" x2="503.30" y2="148.70" stroke="#333" stroke-width="0.8"/>
<text x="497.90" y="148.90" font-size="7.4" text-anchor="end" font-weight="bold" fill="#111" font-family='"Liberation Serif", serif'>0</text>
<line x1="501.70" y1="142.63" x2="503.30" y2="142.63" stroke="#333" stroke-width="0.8"/>
<line x1="501.70" y1="136.57" x2="503.30" y2="136.57" stroke="#333" stroke-width="0.8"/>
<line x1="501.70" y1="130.50" x2="503.30" y2="130.50" stroke="#333" stroke-width="0.8"/>
<line x1="500.30" y1="124.44" x2="503.30" y2="124.44" stroke="#333" stroke-width="0.8"/>
<text x="497.90" y="128.44" font-size="7.4" text-anchor="end" font-weight="bold" fill="#111" font-family='"Liberation Serif", serif'>20</text>
<line x1="501.70" y1="118.37" x2="503.30" y2="118.37" stroke="#333" stroke-width="0.8"/>
<line x1="501.70" y1="112.31" x2="503.30" y2="112.31" stroke="#333" stroke-width="0.8"/>
<line x1="501.70" y1="106.24" x2="503.30" y2="106.24" stroke="#333" stroke-width="0.8"/>
<line x1="500.30" y1="100.18" x2="503.30" y2="100.18" stroke="#333" stroke-width="0.8"/>
<text x="497.90" y="104.18" font-size="7.4" text-anchor="end" font-weight="bold" fill="#111" font-family='"Liberation Serif", serif'>40</text>
<line x1="501.70" y1="94.11" x2="503.30" y2="94.11" stroke="#333" stroke-width="0.8"/>
<line x1="501.70" y1="88.05" x2="503.30" y2="88.05" stroke="#333" stroke-width="0.8"/>
<line x1="501.70" y1="81.98" x2="503.30" y2="81.98" stroke="#333" stroke-width="0.8"/>
<line x1="500.30" y1="75.92" x2="503.30" y2="75.92" stroke="#333" stroke-width="0.8"/>
<text x="497.90" y="79.92" font-size="7.4" text-anchor="end" font-weight="bold" fill="#111" font-family='"Liberation Serif", serif'>60</text>
<line x1="501.70" y1="69.85" x2="503.30" y2="69.85" stroke="#333" stroke-width="0.8"/>
<line x1="501.70" y1="63.79" x2="503.30" y2="63.79" stroke="#333" stroke-width="0.8"/>
<line x1="501.70" y1="57.72" x2="503.30" y2="57.72" stroke="#333" stroke-width="0.8"/>
<line x1="500.30" y1="51.66" x2="503.30" y2="51.66" stroke="#333" stroke-width="0.8"/>
<text x="497.90" y="55.66" font-size="7.4" text-anchor="end" font-weight="bold" fill="#111" font-family='"Liberation Serif", serif'>80</text>
<line x1="501.70" y1="45.59" x2="503.30" y2="45.59" stroke="#333" stroke-width="0.8"/>
<line x1="501.70" y1="39.53" x2="503.30" y2="39.53" stroke="#333" stroke-width="0.8"/>
<line x1="501.70" y1="33.46" x2="503.30" y2="33.46" stroke="#333" stroke-width="0.8"/>
<line x1="500.30" y1="27.40" x2="503.30" y2="27.40" stroke="#333" stroke-width="0.8"/>
<text x="497.90" y="31.40" font-size="7.4" text-anchor="end" font-weight="bold" fill="#111" font-family='"Liberation Serif", serif'>100</text>
<line x1="504.20" y1="148.70" x2="504.20" y2="151.00" stroke="#333" stroke-width="0.8"/>
<line x1="511.77" y1="148.70" x2="511.77" y2="150.00" stroke="#444" stroke-width="0.6"/>
<line x1="516.20" y1="148.70" x2="516.20" y2="150.00" stroke="#444" stroke-width="0.6"/>
<line x1="519.34" y1="148.70" x2="519.34" y2="150.00" stroke="#444" stroke-width="0.6"/>
<line x1="521.78" y1="148.70" x2="521.78" y2="150.00" stroke="#444" stroke-width="0.6"/>
<line x1="523.77" y1="148.70" x2="523.77" y2="150.00" stroke="#444" stroke-width="0.6"/>
<line x1="525.45" y1="148.70" x2="525.45" y2="150.00" stroke="#444" stroke-width="0.6"/>
<line x1="526.91" y1="148.70" x2="526.91" y2="150.00" stroke="#444" stroke-width="0.6"/>
<line x1="528.20" y1="148.70" x2="528.20" y2="150.00" stroke="#444" stroke-width="0.6"/>
<line x1="529.35" y1="148.70" x2="529.35" y2="151.00" stroke="#333" stroke-width="0.8"/>
<line x1="536.92" y1="148.70" x2="536.92" y2="150.00" stroke="#444" stroke-width="0.6"/>
<line x1="541.35" y1="148.70" x2="541.35" y2="150.00" stroke="#444" stroke-width="0.6"/>
<line x1="544.49" y1="148.70" x2="544.49" y2="150.00" stroke="#444" stroke-width="0.6"/>
<line x1="546.93" y1="148.70" x2="546.93" y2="150.00" stroke="#444" stroke-width="0.6"/>
<line x1="548.92" y1="148.70" x2="548.92" y2="150.00" stroke="#444" stroke-width="0.6"/>
<line x1="550.60" y1="148.70" x2="550.60" y2="150.00" stroke="#444" stroke-width="0.6"/>
<line x1="552.06" y1="148.70" x2="552.06" y2="150.00" stroke="#444" stroke-width="0.6"/>
<line x1="553.35" y1="148.70" x2="553.35" y2="150.00" stroke="#444" stroke-width="0.6"/>
<line x1="554.50" y1="148.70" x2="554.50" y2="151.00" stroke="#333" stroke-width="0.8"/>
<line x1="562.07" y1="148.70" x2="562.07" y2="150.00" stroke="#444" stroke-width="0.6"/>
<line x1="566.50" y1="148.70" x2="566.50" y2="150.00" stroke="#444" stroke-width="0.6"/>
<line x1="569.64" y1="148.70" x2="569.64" y2="150.00" stroke="#444" stroke-width="0.6"/>
<line x1="572.08" y1="148.70" x2="572.08" y2="150.00" stroke="#444" stroke-width="0.6"/>
<line x1="574.07" y1="148.70" x2="574.07" y2="150.00" stroke="#444" stroke-width="0.6"/>
<line x1="575.75" y1="148.70" x2="575.75" y2="150.00" stroke="#444" stroke-width="0.6"/>
<line x1="577.21" y1="148.70" x2="577.21" y2="150.00" stroke="#444" stroke-width="0.6"/>
<line x1="578.50" y1="148.70" x2="578.50" y2="150.00" stroke="#444" stroke-width="0.6"/>
<line x1="579.65" y1="148.70" x2="579.65" y2="151.00" stroke="#333" stroke-width="0.8"/>
<line x1="587.22" y1="148.70" x2="587.22" y2="150.00" stroke="#444" stroke-width="0.6"/>
<line x1="591.65" y1="148.70" x2="591.65" y2="150.00" stroke="#444" stroke-width="0.6"/>
<line x1="594.79" y1="148.70" x2="594.79" y2="150.00" stroke="#444" stroke-width="0.6"/>
<line x1="597.23" y1="148.70" x2="597.23" y2="150.00" stroke="#444" stroke-width="0.6"/>
<line x1="599.22" y1="148.70" x2="599.22" y2="150.00" stroke="#444" stroke-width="0.6"/>
<line x1="600.90" y1="148.70" x2="600.90" y2="150.00" stroke="#444" stroke-width="0.6"/>
<line x1="602.36" y1="148.70" x2="602.36" y2="150.00" stroke="#444" stroke-width="0.6"/>
<line x1="603.65" y1="148.70" x2="603.65" y2="150.00" stroke="#444" stroke-width="0.6"/>
<line x1="604.80" y1="148.70" x2="604.80" y2="151.00" stroke="#333" stroke-width="0.8"/>
<line x1="612.37" y1="148.70" x2="612.37" y2="150.00" stroke="#444" stroke-width="0.6"/>
<line x1="616.80" y1="148.70" x2="616.80" y2="150.00" stroke="#444" stroke-width="0.6"/>
<line x1="619.94" y1="148.70" x2="619.94" y2="150.00" stroke="#444" stroke-width="0.6"/>
<line x1="622.38" y1="148.70" x2="622.38" y2="150.00" stroke="#444" stroke-width="0.6"/>
<line x1="624.37" y1="148.70" x2="624.37" y2="150.00" stroke="#444" stroke-width="0.6"/>
<line x1="626.05" y1="148.70" x2="626.05" y2="150.00" stroke="#444" stroke-width="0.6"/>
<line x1="627.51" y1="148.70" x2="627.51" y2="150.00" stroke="#444" stroke-width="0.6"/>
<line x1="628.80" y1="148.70" x2="628.80" y2="150.00" stroke="#444" stroke-width="0.6"/>
<line x1="629.95" y1="148.70" x2="629.95" y2="151.00" stroke="#333" stroke-width="0.8"/>
<text x="509.40" y="165.5" font-size="7.8" text-anchor="middle" font-weight="bold" fill="#111" font-family='"Liberation Serif", serif'>10</text>
<text x="513.80" y="160.0" font-size="6.8" text-anchor="start" font-weight="bold" fill="#111" font-family='"Liberation Serif", serif'>1</text>
<text x="529.45" y="165.5" font-size="7.8" text-anchor="middle" font-weight="bold" fill="#111" font-family='"Liberation Serif", serif'>10</text>
<text x="533.85" y="160.0" font-size="6.8" text-anchor="start" font-weight="bold" fill="#111" font-family='"Liberation Serif", serif'>2</text>
<text x="554.60" y="165.5" font-size="7.8" text-anchor="middle" font-weight="bold" fill="#111" font-family='"Liberation Serif", serif'>10</text>
<text x="559.00" y="160.0" font-size="6.8" text-anchor="start" font-weight="bold" fill="#111" font-family='"Liberation Serif", serif'>3</text>
<text x="579.75" y="165.5" font-size="7.8" text-anchor="middle" font-weight="bold" fill="#111" font-family='"Liberation Serif", serif'>10</text>
<text x="584.15" y="160.0" font-size="6.8" text-anchor="start" font-weight="bold" fill="#111" font-family='"Liberation Serif", serif'>4</text>
<text x="605.10" y="165.5" font-size="7.8" text-anchor="middle" font-weight="bold" fill="#111" font-family='"Liberation Serif", serif'>10</text>
<text x="609.50" y="160.0" font-size="6.8" text-anchor="start" font-weight="bold" fill="#111" font-family='"Liberation Serif", serif'>5</text>
<text x="624.65" y="165.5" font-size="7.8" text-anchor="middle" font-weight="bold" fill="#111" font-family='"Liberation Serif", serif'>10</text>
<text x="629.05" y="160.0" font-size="6.8" text-anchor="start" font-weight="bold" fill="#111" font-family='"Liberation Serif", serif'>6</text>
<text x="566.50" y="176.80" font-size="8.3" text-anchor="middle" font-weight="bold" fill="#111" font-family='"Liberation Serif", serif'>FL2</text>
<line x1="562.30" y1="66.70" x2="625.50" y2="66.70" stroke="#151515" stroke-width="1.1"/>
<line x1="562.30" y1="64.10" x2="562.30" y2="69.30" stroke="#151515" stroke-width="1.1"/>
<line x1="625.50" y1="64.10" x2="625.50" y2="69.30" stroke="#151515" stroke-width="1.1"/>
<text x="593.70" y="46.90" font-size="8.7" text-anchor="middle" font-weight="bold" fill="#111" font-family='"Liberation Serif", serif'>GPC3</text>
<text x="593.70" y="58.40" font-size="8.7" text-anchor="middle" font-weight="bold" fill="#111" font-family='"Liberation Serif", serif'>1.31</text>
<text x="17.30" y="85.00" font-size="9.5" text-anchor="middle" font-weight="bold" fill="#111" font-family='"Liberation Serif", serif' transform="rotate(-90 17.30 85.00)">Normalized To Mode</text>
<rect x="640.10" y="23.30" width="12.00" height="8.10" fill="#badcfc" stroke="#5aa6f4" stroke-width="0.8"/>
<rect x="640.10" y="35.90" width="12.00" height="8.40" fill="#f8a9a7" stroke="#ee3030" stroke-width="0.8"/>
<text x="654.00" y="29.00" font-size="5.6" text-anchor="start" font-weight="bold" fill="#111" font-family='"Liberation Serif", serif'>IgG Control</text>
<text x="654.00" y="41.50" font-size="5.6" text-anchor="start" font-weight="bold" fill="#111" font-family='"Liberation Serif", serif'>PE</text>
<rect x="35.90" y="241.30" width="105.20" height="21.10" fill="#f6dfdf"/>
<rect x="35.9" y="241.3" width="105.2" height="21.1" filter="url(#noise)" opacity="0.8"/>
<g filter="url(#blur0)">
<path d="M73.00,252.10 C73.00,251.28 75.90,251.00 78.80,251.00 C81.70,251.00 84.60,251.44 84.60,252.10 C84.60,252.76 81.70,253.20 78.80,253.20 C75.90,253.20 73.00,252.92 73.00,252.10 Z" fill="#220303"/>
<path d="M89.00,252.40 C89.00,249.85 93.52,249.00 98.03,249.00 C104.27,249.00 110.50,250.36 110.50,252.40 C110.50,254.44 104.27,255.80 98.03,255.80 C93.52,255.80 89.00,254.95 89.00,252.40 Z" fill="#1c0000"/>
<path d="M112.60,251.10 C112.60,247.42 117.70,246.20 122.80,246.20 C127.90,246.20 133.00,248.16 133.00,251.10 C133.00,254.04 127.90,256.00 122.80,256.00 C117.70,256.00 112.60,254.78 112.60,251.10 Z" fill="#180000"/>
</g>
<g filter="url(#blur1)" opacity="0.55">
<ellipse cx="98" cy="252.4" rx="5" ry="1.4" fill="#6a0a0a"/>
<ellipse cx="122" cy="251" rx="6" ry="2" fill="#6a0a0a"/>
</g>
<rect x="35.9" y="241.3" width="105.2" height="21.1" fill="none" stroke="#111" stroke-width="2.2"/>
<rect x="35.90" y="276.60" width="105.20" height="20.50" fill="#f3dede"/>
<g filter="url(#blur2)">
<rect x="45" y="278" width="82" height="18" rx="6" fill="#dcd6d6"/>
<ellipse cx="88" cy="287" rx="36" ry="6" fill="#c4bcbc" opacity="0.8"/>
<ellipse cx="97" cy="291.5" rx="6.5" ry="3.5" fill="#505050" opacity="0.9"/>
<ellipse cx="135" cy="287" rx="5" ry="6" fill="#f4b8b8" opacity="0.7"/>
</g>
<rect x="35.9" y="276.6" width="105.2" height="20.5" filter="url(#noise)" opacity="0.6"/>
<g filter="url(#blur0)">
<line x1="80" y1="287.1" x2="91" y2="287.3" stroke="#b07070" stroke-width="0.7"/>
<line x1="127" y1="285.9" x2="134" y2="286.4" stroke="#e07070" stroke-width="0.8"/>
<path d="M47.30,287.10 C47.30,284.85 51.28,284.10 55.27,284.10 C60.13,284.10 65.00,285.30 65.00,287.10 C65.00,288.90 60.13,290.10 55.27,290.10 C51.28,290.10 47.30,289.35 47.30,287.10 Z" fill="#160000"/>
<path d="M64.60,287.10 C64.60,284.93 68.85,284.20 73.10,284.20 C77.35,284.20 81.60,285.36 81.60,287.10 C81.60,288.84 77.35,290.00 73.10,290.00 C68.85,290.00 64.60,289.28 64.60,287.10 Z" fill="#160000"/>
<path d="M90.30,287.60 C90.30,285.20 94.33,284.40 98.36,284.40 C103.28,284.40 108.20,285.68 108.20,287.60 C108.20,289.76 103.28,291.20 98.36,291.20 C94.33,291.20 90.30,290.30 90.30,287.60 Z" fill="#120000"/>
<path d="M111.90,285.80 C111.90,283.40 116.38,282.60 120.86,282.60 C124.53,282.60 128.20,283.88 128.20,285.80 C128.20,287.72 124.53,289.00 120.86,289.00 C116.38,289.00 111.90,288.20 111.90,285.80 Z" fill="#120000"/>
</g>
<rect x="35.9" y="276.6" width="105.2" height="20.5" fill="none" stroke="#111" stroke-width="2.2"/>
<text x="148.10" y="253.90" font-size="10.2" text-anchor="start" font-weight="bold" fill="#111" font-family='"Liberation Serif", serif' textLength="67.6" lengthAdjust="spacingAndGlyphs">66kDa (GPC3)</text>
<text x="148.90" y="289.70" font-size="10.2" text-anchor="start" font-weight="bold" fill="#111" font-family='"Liberation Serif", serif' textLength="72.4" lengthAdjust="spacingAndGlyphs">42kDa&#160; (&#946;-actin)</text>
<text x="51.50" y="229.60" font-size="9.3" text-anchor="start" font-weight="bold" fill="#111" font-family='"Liberation Serif", serif' transform="rotate(-44 51.50 229.60)">Sk-hep-1</text>
<text x="78.50" y="228.90" font-size="9.3" text-anchor="start" font-weight="bold" fill="#111" font-family='"Liberation Serif", serif' transform="rotate(-44 78.50 228.90)">Huh-7</text>
<text x="103.50" y="231.80" font-size="9.3" text-anchor="start" font-weight="bold" fill="#111" font-family='"Liberation Serif", serif' transform="rotate(-44 103.50 231.80)">Hep-3B</text>
<text x="129.00" y="231.80" font-size="9.3" text-anchor="start" font-weight="bold" fill="#111" font-family='"Liberation Serif", serif' transform="rotate(-44 129.00 231.80)">Hep-G2</text>
<rect x="298.70" y="299.55" width="17.20" height="1.55" fill="#bcbcbc"/>
<line x1="307.30" y1="299.55" x2="307.30" y2="297.22" stroke="#333" stroke-width="1.1"/>
<line x1="302.66" y1="297.22" x2="311.94" y2="297.22" stroke="#333" stroke-width="1.1"/>
<rect x="324.78" y="235.21" width="17.20" height="65.89" fill="#f5b04a"/>
<line x1="333.38" y1="235.21" x2="333.38" y2="220.29" stroke="#333" stroke-width="1.1"/>
<line x1="328.74" y1="220.29" x2="338.02" y2="220.29" stroke="#333" stroke-width="1.1"/>
<rect x="350.86" y="299.03" width="17.20" height="2.07" fill="#5c8ac8"/>
<line x1="359.46" y1="299.03" x2="359.46" y2="297.22" stroke="#333" stroke-width="1.1"/>
<line x1="354.82" y1="297.22" x2="364.10" y2="297.22" stroke="#333" stroke-width="1.1"/>
<rect x="376.94" y="238.70" width="17.20" height="62.40" fill="#2db2bd"/>
<line x1="385.54" y1="238.70" x2="385.54" y2="226.81" stroke="#333" stroke-width="1.1"/>
<line x1="380.90" y1="226.81" x2="390.18" y2="226.81" stroke="#333" stroke-width="1.1"/>
<rect x="403.02" y="296.96" width="17.20" height="4.14" fill="#fdf6b2"/>
<line x1="411.62" y1="296.96" x2="411.62" y2="296.32" stroke="#333" stroke-width="1.1"/>
<line x1="406.98" y1="296.32" x2="416.26" y2="296.32" stroke="#333" stroke-width="1.1"/>
<rect x="429.10" y="296.83" width="17.20" height="4.27" fill="#c682b2"/>
<line x1="437.70" y1="296.83" x2="437.70" y2="296.19" stroke="#333" stroke-width="1.1"/>
<line x1="433.06" y1="296.19" x2="442.34" y2="296.19" stroke="#333" stroke-width="1.1"/>
<line x1="294.00" y1="197.20" x2="294.00" y2="301.70" stroke="#333" stroke-width="1.2"/>
<line x1="293.40" y1="301.10" x2="451.00" y2="301.10" stroke="#333" stroke-width="1.2"/>
<line x1="291.00" y1="301.10" x2="294.00" y2="301.10" stroke="#333" stroke-width="1.1"/>
<text x="289.50" y="304.30" font-size="9.0" text-anchor="end" font-weight="bold" fill="#111" font-family='"Liberation Serif", serif'>0</text>
<line x1="291.00" y1="275.25" x2="294.00" y2="275.25" stroke="#333" stroke-width="1.1"/>
<text x="289.50" y="278.45" font-size="9.0" text-anchor="end" font-weight="bold" fill="#111" font-family='"Liberation Serif", serif'>1000</text>
<line x1="291.00" y1="249.40" x2="294.00" y2="249.40" stroke="#333" stroke-width="1.1"/>
<text x="289.50" y="252.60" font-size="9.0" text-anchor="end" font-weight="bold" fill="#111" font-family='"Liberation Serif", serif'>2000</text>
<line x1="291.00" y1="223.55" x2="294.00" y2="223.55" stroke="#333" stroke-width="1.1"/>
<text x="289.50" y="226.75" font-size="9.0" text-anchor="end" font-weight="bold" fill="#111" font-family='"Liberation Serif", serif'>3000</text>
<line x1="291.00" y1="197.70" x2="294.00" y2="197.70" stroke="#333" stroke-width="1.1"/>
<text x="289.50" y="200.90" font-size="9.0" text-anchor="end" font-weight="bold" fill="#111" font-family='"Liberation Serif", serif'>4000</text>
<line x1="307.30" y1="301.10" x2="307.30" y2="304.10" stroke="#333" stroke-width="1.0"/>
<line x1="333.38" y1="301.10" x2="333.38" y2="304.10" stroke="#333" stroke-width="1.0"/>
<line x1="359.46" y1="301.10" x2="359.46" y2="304.10" stroke="#333" stroke-width="1.0"/>
<line x1="385.54" y1="301.10" x2="385.54" y2="304.10" stroke="#333" stroke-width="1.0"/>
<line x1="411.62" y1="301.10" x2="411.62" y2="304.10" stroke="#333" stroke-width="1.0"/>
<line x1="437.70" y1="301.10" x2="437.70" y2="304.10" stroke="#333" stroke-width="1.0"/>
<text x="265.60" y="248.30" font-size="11.2" text-anchor="middle" font-weight="bold" fill="#111" font-family='"Liberation Serif", serif' transform="rotate(-90 265.60 248.30)">IL&#8211;21 (pg/ml)</text>
<line x1="309.20" y1="202.50" x2="383.70" y2="202.50" stroke="#111" stroke-width="1.6"/>
<polygon points="341.15,195.15 341.87,196.61 343.48,196.84 342.32,197.98 342.59,199.58 341.15,198.82 339.71,199.58 339.98,197.98 338.82,196.84 340.43,196.61" fill="#7c7c7c"/>
<polygon points="346.45,195.15 347.17,196.61 348.78,196.84 347.62,197.98 347.89,199.58 346.45,198.82 345.01,199.58 345.28,197.98 344.12,196.84 345.73,196.61" fill="#7c7c7c"/>
<polygon points="351.75,195.15 352.47,196.61 354.08,196.84 352.92,197.98 353.19,199.58 351.75,198.82 350.31,199.58 350.58,197.98 349.42,196.84 351.03,196.61" fill="#7c7c7c"/>
<line x1="307.90" y1="215.10" x2="336.10" y2="215.10" stroke="#111" stroke-width="1.6"/>
<polygon points="316.70,207.75 317.42,209.21 319.03,209.44 317.87,210.58 318.14,212.18 316.70,211.42 315.26,212.18 315.53,210.58 314.37,209.44 315.98,209.21" fill="#7c7c7c"/>
<polygon points="322.00,207.75 322.72,209.21 324.33,209.44 323.17,210.58 323.44,212.18 322.00,211.42 320.56,212.18 320.83,210.58 319.67,209.44 321.28,209.21" fill="#7c7c7c"/>
<polygon points="327.30,207.75 328.02,209.21 329.63,209.44 328.47,210.58 328.74,212.18 327.30,211.42 325.86,212.18 326.13,210.58 324.97,209.44 326.58,209.21" fill="#7c7c7c"/>
<text x="309.90" y="311.00" font-size="8.6" text-anchor="end" font-weight="bold" fill="#111" font-family='"Liberation Serif", serif' transform="rotate(-45 309.90 311.00)">Conv</text>
<text x="335.98" y="311.00" font-size="8.6" text-anchor="end" font-weight="bold" fill="#111" font-family='"Liberation Serif", serif' transform="rotate(-45 335.98 311.00)">21</text>
<text x="362.06" y="311.00" font-size="8.6" text-anchor="end" font-weight="bold" fill="#111" font-family='"Liberation Serif", serif' transform="rotate(-45 362.06 311.00)">9</text>
<text x="388.14" y="311.00" font-size="8.6" text-anchor="end" font-weight="bold" fill="#111" font-family='"Liberation Serif", serif' transform="rotate(-45 388.14 311.00)">21×9</text>
<text x="414.22" y="311.00" font-size="8.6" text-anchor="end" font-weight="bold" fill="#111" font-family='"Liberation Serif", serif' transform="rotate(-45 414.22 311.00)">Null-T</text>
<text x="440.30" y="311.00" font-size="8.6" text-anchor="end" font-weight="bold" fill="#111" font-family='"Liberation Serif", serif' transform="rotate(-45 440.30 311.00)">Blank-T</text>
<rect x="506.40" y="297.24" width="17.00" height="3.86" fill="#bcbcbc"/>
<line x1="514.90" y1="297.24" x2="514.90" y2="296.72" stroke="#333" stroke-width="1.1"/>
<line x1="510.31" y1="296.72" x2="519.49" y2="296.72" stroke="#333" stroke-width="1.1"/>
<rect x="532.35" y="297.24" width="17.00" height="3.86" fill="#f5b04a"/>
<line x1="540.85" y1="297.24" x2="540.85" y2="296.72" stroke="#333" stroke-width="1.1"/>
<line x1="536.26" y1="296.72" x2="545.44" y2="296.72" stroke="#333" stroke-width="1.1"/>
<rect x="558.30" y="229.41" width="17.00" height="71.69" fill="#5c8ac8"/>
<line x1="566.80" y1="229.41" x2="566.80" y2="226.79" stroke="#333" stroke-width="1.1"/>
<line x1="562.21" y1="226.79" x2="571.39" y2="226.79" stroke="#333" stroke-width="1.1"/>
<rect x="584.25" y="225.91" width="17.00" height="75.19" fill="#2db2bd"/>
<line x1="592.75" y1="225.91" x2="592.75" y2="222.41" stroke="#333" stroke-width="1.1"/>
<line x1="588.16" y1="222.41" x2="597.34" y2="222.41" stroke="#333" stroke-width="1.1"/>
<rect x="610.20" y="298.27" width="17.00" height="2.83" fill="#fdf6b2"/>
<line x1="618.70" y1="298.27" x2="618.70" y2="297.50" stroke="#333" stroke-width="1.1"/>
<line x1="614.11" y1="297.50" x2="623.29" y2="297.50" stroke="#333" stroke-width="1.1"/>
<rect x="636.15" y="298.01" width="17.00" height="3.09" fill="#c682b2"/>
<line x1="644.65" y1="298.01" x2="644.65" y2="297.39" stroke="#333" stroke-width="1.1"/>
<line x1="640.06" y1="297.39" x2="649.24" y2="297.39" stroke="#333" stroke-width="1.1"/>
<line x1="501.70" y1="197.60" x2="501.70" y2="301.70" stroke="#333" stroke-width="1.2"/>
<line x1="501.10" y1="301.10" x2="657.20" y2="301.10" stroke="#333" stroke-width="1.2"/>
<line x1="498.70" y1="301.10" x2="501.70" y2="301.10" stroke="#333" stroke-width="1.1"/>
<text x="497.20" y="304.30" font-size="9.0" text-anchor="end" font-weight="bold" fill="#111" font-family='"Liberation Serif", serif'>0</text>
<line x1="498.70" y1="275.35" x2="501.70" y2="275.35" stroke="#333" stroke-width="1.1"/>
<text x="497.20" y="278.55" font-size="9.0" text-anchor="end" font-weight="bold" fill="#111" font-family='"Liberation Serif", serif'>500</text>
<line x1="498.70" y1="249.60" x2="501.70" y2="249.60" stroke="#333" stroke-width="1.1"/>
<text x="497.20" y="252.80" font-size="9.0" text-anchor="end" font-weight="bold" fill="#111" font-family='"Liberation Serif", serif'>1000</text>
<line x1="498.70" y1="223.85" x2="501.70" y2="223.85" stroke="#333" stroke-width="1.1"/>
<text x="497.20" y="227.05" font-size="9.0" text-anchor="end" font-weight="bold" fill="#111" font-family='"Liberation Serif", serif'>1500</text>
<line x1="498.70" y1="198.10" x2="501.70" y2="198.10" stroke="#333" stroke-width="1.1"/>
<text x="497.20" y="201.30" font-size="9.0" text-anchor="end" font-weight="bold" fill="#111" font-family='"Liberation Serif", serif'>2000</text>
<line x1="514.90" y1="301.10" x2="514.90" y2="304.10" stroke="#333" stroke-width="1.0"/>
<line x1="540.85" y1="301.10" x2="540.85" y2="304.10" stroke="#333" stroke-width="1.0"/>
<line x1="566.80" y1="301.10" x2="566.80" y2="304.10" stroke="#333" stroke-width="1.0"/>
<line x1="592.75" y1="301.10" x2="592.75" y2="304.10" stroke="#333" stroke-width="1.0"/>
<line x1="618.70" y1="301.10" x2="618.70" y2="304.10" stroke="#333" stroke-width="1.0"/>
<line x1="644.65" y1="301.10" x2="644.65" y2="304.10" stroke="#333" stroke-width="1.0"/>
<text x="472.30" y="248.20" font-size="11.2" text-anchor="middle" font-weight="bold" fill="#111" font-family='"Liberation Serif", serif' transform="rotate(-90 472.30 248.20)">CXCL9 (pg/ml)</text>
<line x1="514.20" y1="211.00" x2="592.10" y2="211.00" stroke="#111" stroke-width="1.6"/>
<polygon points="547.85,203.65 548.57,205.11 550.18,205.34 549.02,206.48 549.29,208.08 547.85,207.32 546.41,208.08 546.68,206.48 545.52,205.34 547.13,205.11" fill="#7c7c7c"/>
<polygon points="553.15,203.65 553.87,205.11 555.48,205.34 554.32,206.48 554.59,208.08 553.15,207.32 551.71,208.08 551.98,206.48 550.82,205.34 552.43,205.11" fill="#7c7c7c"/>
<polygon points="558.45,203.65 559.17,205.11 560.78,205.34 559.62,206.48 559.89,208.08 558.45,207.32 557.01,208.08 557.28,206.48 556.12,205.34 557.73,205.11" fill="#7c7c7c"/>
<line x1="514.20" y1="222.40" x2="567.10" y2="222.40" stroke="#111" stroke-width="1.6"/>
<polygon points="535.35,215.05 536.07,216.51 537.68,216.74 536.52,217.88 536.79,219.48 535.35,218.72 533.91,219.48 534.18,217.88 533.02,216.74 534.63,216.51" fill="#7c7c7c"/>
<polygon points="540.65,215.05 541.37,216.51 542.98,216.74 541.82,217.88 542.09,219.48 540.65,218.72 539.21,219.48 539.48,217.88 538.32,216.74 539.93,216.51" fill="#7c7c7c"/>
<polygon points="545.95,215.05 546.67,216.51 548.28,216.74 547.12,217.88 547.39,219.48 545.95,218.72 544.51,219.48 544.78,217.88 543.62,216.74 545.23,216.51" fill="#7c7c7c"/>
<text x="517.50" y="311.00" font-size="8.6" text-anchor="end" font-weight="bold" fill="#111" font-family='"Liberation Serif", serif' transform="rotate(-45 517.50 311.00)">Conv</text>
<text x="543.45" y="311.00" font-size="8.6" text-anchor="end" font-weight="bold" fill="#111" font-family='"Liberation Serif", serif' transform="rotate(-45 543.45 311.00)">21</text>
<text x="569.40" y="311.00" font-size="8.6" text-anchor="end" font-weight="bold" fill="#111" font-family='"Liberation Serif", serif' transform="rotate(-45 569.40 311.00)">9</text>
<text x="595.35" y="311.00" font-size="8.6" text-anchor="end" font-weight="bold" fill="#111" font-family='"Liberation Serif", serif' transform="rotate(-45 595.35 311.00)">21×9</text>
<text x="621.30" y="311.00" font-size="8.6" text-anchor="end" font-weight="bold" fill="#111" font-family='"Liberation Serif", serif' transform="rotate(-45 621.30 311.00)">Null-T</text>
<text x="647.25" y="311.00" font-size="8.6" text-anchor="end" font-weight="bold" fill="#111" font-family='"Liberation Serif", serif' transform="rotate(-45 647.25 311.00)">Blank-T</text>
<rect x="68.00" y="432.00" width="14.80" height="23.60" fill="#bcbcbc"/>
<line x1="75.40" y1="432.00" x2="75.40" y2="430.59" stroke="#333" stroke-width="1.1"/>
<line x1="71.40" y1="430.59" x2="79.40" y2="430.59" stroke="#333" stroke-width="1.1"/>
<rect x="90.35" y="405.20" width="14.80" height="50.40" fill="#f5b04a"/>
<line x1="97.75" y1="405.20" x2="97.75" y2="401.69" stroke="#333" stroke-width="1.1"/>
<line x1="93.75" y1="401.69" x2="101.75" y2="401.69" stroke="#333" stroke-width="1.1"/>
<rect x="112.70" y="425.80" width="14.80" height="29.80" fill="#5c8ac8"/>
<line x1="120.10" y1="425.80" x2="120.10" y2="423.59" stroke="#333" stroke-width="1.1"/>
<line x1="116.10" y1="423.59" x2="124.10" y2="423.59" stroke="#333" stroke-width="1.1"/>
<rect x="135.05" y="398.69" width="14.80" height="56.91" fill="#2db2bd"/>
<line x1="142.45" y1="398.69" x2="142.45" y2="396.08" stroke="#333" stroke-width="1.1"/>
<line x1="138.45" y1="396.08" x2="146.45" y2="396.08" stroke="#333" stroke-width="1.1"/>
<rect x="157.40" y="382.38" width="14.80" height="73.22" fill="#f19a78"/>
<line x1="164.80" y1="382.38" x2="164.80" y2="371.18" stroke="#333" stroke-width="1.1"/>
<line x1="160.80" y1="371.18" x2="168.80" y2="371.18" stroke="#333" stroke-width="1.1"/>
<rect x="179.75" y="454.21" width="14.80" height="1.39" fill="#fdf6b2"/>
<line x1="187.15" y1="454.21" x2="187.15" y2="453.52" stroke="#333" stroke-width="1.1"/>
<line x1="183.15" y1="453.52" x2="191.15" y2="453.52" stroke="#333" stroke-width="1.1"/>
<rect x="202.10" y="453.86" width="14.80" height="1.74" fill="#c682b2"/>
<line x1="209.50" y1="453.86" x2="209.50" y2="453.00" stroke="#333" stroke-width="1.1"/>
<line x1="205.50" y1="453.00" x2="213.50" y2="453.00" stroke="#333" stroke-width="1.1"/>
<line x1="64.50" y1="350.90" x2="64.50" y2="456.20" stroke="#333" stroke-width="1.2"/>
<line x1="63.90" y1="455.60" x2="220.80" y2="455.60" stroke="#333" stroke-width="1.2"/>
<line x1="61.50" y1="455.60" x2="64.50" y2="455.60" stroke="#333" stroke-width="1.1"/>
<text x="60.00" y="458.80" font-size="9.0" text-anchor="end" font-weight="bold" fill="#111" font-family='"Liberation Serif", serif'>0</text>
<line x1="61.50" y1="420.87" x2="64.50" y2="420.87" stroke="#333" stroke-width="1.1"/>
<text x="60.00" y="424.07" font-size="9.0" text-anchor="end" font-weight="bold" fill="#111" font-family='"Liberation Serif", serif'>2000</text>
<line x1="61.50" y1="386.13" x2="64.50" y2="386.13" stroke="#333" stroke-width="1.1"/>
<text x="60.00" y="389.33" font-size="9.0" text-anchor="end" font-weight="bold" fill="#111" font-family='"Liberation Serif", serif'>4000</text>
<line x1="61.50" y1="351.40" x2="64.50" y2="351.40" stroke="#333" stroke-width="1.1"/>
<text x="60.00" y="354.60" font-size="9.0" text-anchor="end" font-weight="bold" fill="#111" font-family='"Liberation Serif", serif'>6000</text>
<line x1="75.40" y1="455.60" x2="75.40" y2="458.60" stroke="#333" stroke-width="1.0"/>
<line x1="97.75" y1="455.60" x2="97.75" y2="458.60" stroke="#333" stroke-width="1.0"/>
<line x1="120.10" y1="455.60" x2="120.10" y2="458.60" stroke="#333" stroke-width="1.0"/>
<line x1="142.45" y1="455.60" x2="142.45" y2="458.60" stroke="#333" stroke-width="1.0"/>
<line x1="164.80" y1="455.60" x2="164.80" y2="458.60" stroke="#333" stroke-width="1.0"/>
<line x1="187.15" y1="455.60" x2="187.15" y2="458.60" stroke="#333" stroke-width="1.0"/>
<line x1="209.50" y1="455.60" x2="209.50" y2="458.60" stroke="#333" stroke-width="1.0"/>
<text x="34.80" y="403.20" font-size="11.1" text-anchor="middle" font-weight="bold" fill="#111" font-family='"Liberation Serif", serif' transform="rotate(-90 34.80 403.20)">IL&#8211;2 (pg/ml)</text>
<line x1="79.20" y1="367.20" x2="143.80" y2="367.20" stroke="#111" stroke-width="1.6"/>
<polygon points="106.20,359.85 106.92,361.31 108.53,361.54 107.37,362.68 107.64,364.28 106.20,363.53 104.76,364.28 105.03,362.68 103.87,361.54 105.48,361.31" fill="#7c7c7c"/>
<polygon points="111.50,359.85 112.22,361.31 113.83,361.54 112.67,362.68 112.94,364.28 111.50,363.53 110.06,364.28 110.33,362.68 109.17,361.54 110.78,361.31" fill="#7c7c7c"/>
<polygon points="116.80,359.85 117.52,361.31 119.13,361.54 117.97,362.68 118.24,364.28 116.80,363.53 115.36,364.28 115.63,362.68 114.47,361.54 116.08,361.31" fill="#7c7c7c"/>
<line x1="100.70" y1="380.30" x2="137.70" y2="380.30" stroke="#111" stroke-width="1.6"/>
<text x="119.20" y="378.00" font-size="10" text-anchor="middle" font-weight="bold" fill="#111" font-family='"Liberation Serif", serif'>ns</text>
<line x1="121.40" y1="392.20" x2="142.90" y2="392.20" stroke="#111" stroke-width="1.6"/>
<polygon points="126.85,384.85 127.57,386.31 129.18,386.54 128.02,387.68 128.29,389.28 126.85,388.53 125.41,389.28 125.68,387.68 124.52,386.54 126.13,386.31" fill="#7c7c7c"/>
<polygon points="132.15,384.85 132.87,386.31 134.48,386.54 133.32,387.68 133.59,389.28 132.15,388.53 130.71,389.28 130.98,387.68 129.82,386.54 131.43,386.31" fill="#7c7c7c"/>
<polygon points="137.45,384.85 138.17,386.31 139.78,386.54 138.62,387.68 138.89,389.28 137.45,388.53 136.01,389.28 136.28,387.68 135.12,386.54 136.73,386.31" fill="#7c7c7c"/>
<line x1="144.10" y1="358.20" x2="166.90" y2="358.20" stroke="#111" stroke-width="1.6"/>
<polygon points="152.85,350.85 153.57,352.31 155.18,352.54 154.02,353.68 154.29,355.28 152.85,354.53 151.41,355.28 151.68,353.68 150.52,352.54 152.13,352.31" fill="#7c7c7c"/>
<polygon points="158.15,350.85 158.87,352.31 160.48,352.54 159.32,353.68 159.59,355.28 158.15,354.53 156.71,355.28 156.98,353.68 155.82,352.54 157.43,352.31" fill="#7c7c7c"/>
<text x="78.00" y="465.50" font-size="8.6" text-anchor="end" font-weight="bold" fill="#111" font-family='"Liberation Serif", serif' transform="rotate(-45 78.00 465.50)">Conv</text>
<text x="100.35" y="465.50" font-size="8.6" text-anchor="end" font-weight="bold" fill="#111" font-family='"Liberation Serif", serif' transform="rotate(-45 100.35 465.50)">21</text>
<text x="122.70" y="465.50" font-size="8.6" text-anchor="end" font-weight="bold" fill="#111" font-family='"Liberation Serif", serif' transform="rotate(-45 122.70 465.50)">9</text>
<text x="145.05" y="465.50" font-size="8.6" text-anchor="end" font-weight="bold" fill="#111" font-family='"Liberation Serif", serif' transform="rotate(-45 145.05 465.50)">21×9</text>
<text x="167.40" y="465.50" font-size="8.6" text-anchor="end" font-weight="bold" fill="#111" font-family='"Liberation Serif", serif' transform="rotate(-45 167.40 465.50)">PD-1 blocked 21×9</text>
<text x="189.75" y="465.50" font-size="8.6" text-anchor="end" font-weight="bold" fill="#111" font-family='"Liberation Serif", serif' transform="rotate(-45 189.75 465.50)">Null-T</text>
<text x="212.10" y="465.50" font-size="8.6" text-anchor="end" font-weight="bold" fill="#111" font-family='"Liberation Serif", serif' transform="rotate(-45 212.10 465.50)">Blank-T</text>
<rect x="274.10" y="438.11" width="14.80" height="17.19" fill="#bcbcbc"/>
<line x1="281.50" y1="438.11" x2="281.50" y2="437.20" stroke="#333" stroke-width="1.1"/>
<line x1="277.50" y1="437.20" x2="285.50" y2="437.20" stroke="#333" stroke-width="1.1"/>
<rect x="296.50" y="416.71" width="14.80" height="38.59" fill="#f5b04a"/>
<line x1="303.90" y1="416.71" x2="303.90" y2="413.20" stroke="#333" stroke-width="1.1"/>
<line x1="299.90" y1="413.20" x2="307.90" y2="413.20" stroke="#333" stroke-width="1.1"/>
<rect x="318.90" y="432.01" width="14.80" height="23.29" fill="#5c8ac8"/>
<line x1="326.30" y1="432.01" x2="326.30" y2="429.30" stroke="#333" stroke-width="1.1"/>
<line x1="322.30" y1="429.30" x2="330.30" y2="429.30" stroke="#333" stroke-width="1.1"/>
<rect x="341.30" y="405.29" width="14.80" height="50.01" fill="#2db2bd"/>
<line x1="348.70" y1="405.29" x2="348.70" y2="397.31" stroke="#333" stroke-width="1.1"/>
<line x1="344.70" y1="397.31" x2="352.70" y2="397.31" stroke="#333" stroke-width="1.1"/>
<rect x="363.70" y="371.20" width="14.80" height="84.10" fill="#f19a78"/>
<line x1="371.10" y1="371.20" x2="371.10" y2="361.40" stroke="#333" stroke-width="1.1"/>
<line x1="367.10" y1="361.40" x2="375.10" y2="361.40" stroke="#333" stroke-width="1.1"/>
<rect x="386.10" y="448.30" width="14.80" height="7.00" fill="#fdf6b2"/>
<line x1="393.50" y1="448.30" x2="393.50" y2="447.61" stroke="#333" stroke-width="1.1"/>
<line x1="389.50" y1="447.61" x2="397.50" y2="447.61" stroke="#333" stroke-width="1.1"/>
<rect x="408.50" y="446.01" width="14.80" height="9.29" fill="#c682b2"/>
<line x1="415.90" y1="446.01" x2="415.90" y2="445.11" stroke="#333" stroke-width="1.1"/>
<line x1="411.90" y1="445.11" x2="419.90" y2="445.11" stroke="#333" stroke-width="1.1"/>
<line x1="270.10" y1="349.70" x2="270.10" y2="455.90" stroke="#333" stroke-width="1.2"/>
<line x1="269.50" y1="455.30" x2="427.60" y2="455.30" stroke="#333" stroke-width="1.2"/>
<line x1="267.10" y1="455.30" x2="270.10" y2="455.30" stroke="#333" stroke-width="1.1"/>
<text x="265.60" y="458.50" font-size="9.0" text-anchor="end" font-weight="bold" fill="#111" font-family='"Liberation Serif", serif'>0</text>
<line x1="267.10" y1="434.28" x2="270.10" y2="434.28" stroke="#333" stroke-width="1.1"/>
<text x="265.60" y="437.48" font-size="9.0" text-anchor="end" font-weight="bold" fill="#111" font-family='"Liberation Serif", serif'>1000</text>
<line x1="267.10" y1="413.26" x2="270.10" y2="413.26" stroke="#333" stroke-width="1.1"/>
<text x="265.60" y="416.46" font-size="9.0" text-anchor="end" font-weight="bold" fill="#111" font-family='"Liberation Serif", serif'>2000</text>
<line x1="267.10" y1="392.24" x2="270.10" y2="392.24" stroke="#333" stroke-width="1.1"/>
<text x="265.60" y="395.44" font-size="9.0" text-anchor="end" font-weight="bold" fill="#111" font-family='"Liberation Serif", serif'>3000</text>
<line x1="267.10" y1="371.22" x2="270.10" y2="371.22" stroke="#333" stroke-width="1.1"/>
<text x="265.60" y="374.42" font-size="9.0" text-anchor="end" font-weight="bold" fill="#111" font-family='"Liberation Serif", serif'>4000</text>
<line x1="267.10" y1="350.20" x2="270.10" y2="350.20" stroke="#333" stroke-width="1.1"/>
<text x="265.60" y="353.40" font-size="9.0" text-anchor="end" font-weight="bold" fill="#111" font-family='"Liberation Serif", serif'>5000</text>
<line x1="281.50" y1="455.30" x2="281.50" y2="458.30" stroke="#333" stroke-width="1.0"/>
<line x1="303.90" y1="455.30" x2="303.90" y2="458.30" stroke="#333" stroke-width="1.0"/>
<line x1="326.30" y1="455.30" x2="326.30" y2="458.30" stroke="#333" stroke-width="1.0"/>
<line x1="348.70" y1="455.30" x2="348.70" y2="458.30" stroke="#333" stroke-width="1.0"/>
<line x1="371.10" y1="455.30" x2="371.10" y2="458.30" stroke="#333" stroke-width="1.0"/>
<line x1="393.50" y1="455.30" x2="393.50" y2="458.30" stroke="#333" stroke-width="1.0"/>
<line x1="415.90" y1="455.30" x2="415.90" y2="458.30" stroke="#333" stroke-width="1.0"/>
<text x="240.30" y="403.50" font-size="11.5" text-anchor="middle" font-weight="bold" fill="#111" font-family='"Liberation Serif", serif' transform="rotate(-90 240.30 403.50)">IFN-&#947; (pg/ml)</text>
<line x1="283.80" y1="366.80" x2="349.00" y2="366.80" stroke="#111" stroke-width="1.6"/>
<polygon points="311.10,359.45 311.82,360.91 313.43,361.14 312.27,362.28 312.54,363.88 311.10,363.13 309.66,363.88 309.93,362.28 308.77,361.14 310.38,360.91" fill="#7c7c7c"/>
<polygon points="316.40,359.45 317.12,360.91 318.73,361.14 317.57,362.28 317.84,363.88 316.40,363.13 314.96,363.88 315.23,362.28 314.07,361.14 315.68,360.91" fill="#7c7c7c"/>
<polygon points="321.70,359.45 322.42,360.91 324.03,361.14 322.87,362.28 323.14,363.88 321.70,363.13 320.26,363.88 320.53,362.28 319.37,361.14 320.98,360.91" fill="#7c7c7c"/>
<line x1="305.20" y1="381.30" x2="349.00" y2="381.30" stroke="#111" stroke-width="1.6"/>
<text x="327.10" y="379.00" font-size="10" text-anchor="middle" font-weight="bold" fill="#111" font-family='"Liberation Serif", serif'>ns</text>
<line x1="326.70" y1="393.10" x2="347.40" y2="393.10" stroke="#111" stroke-width="1.6"/>
<polygon points="331.75,385.75 332.47,387.21 334.08,387.44 332.92,388.58 333.19,390.18 331.75,389.43 330.31,390.18 330.58,388.58 329.42,387.44 331.03,387.21" fill="#7c7c7c"/>
<polygon points="337.05,385.75 337.77,387.21 339.38,387.44 338.22,388.58 338.49,390.18 337.05,389.43 335.61,390.18 335.88,388.58 334.72,387.44 336.33,387.21" fill="#7c7c7c"/>
<polygon points="342.35,385.75 343.07,387.21 344.68,387.44 343.52,388.58 343.79,390.18 342.35,389.43 340.91,390.18 341.18,388.58 340.02,387.44 341.63,387.21" fill="#7c7c7c"/>
<line x1="348.40" y1="356.10" x2="371.50" y2="356.10" stroke="#111" stroke-width="1.6"/>
<polygon points="354.65,348.75 355.37,350.21 356.98,350.44 355.82,351.58 356.09,353.18 354.65,352.43 353.21,353.18 353.48,351.58 352.32,350.44 353.93,350.21" fill="#7c7c7c"/>
<polygon points="359.95,348.75 360.67,350.21 362.28,350.44 361.12,351.58 361.39,353.18 359.95,352.43 358.51,353.18 358.78,351.58 357.62,350.44 359.23,350.21" fill="#7c7c7c"/>
<polygon points="365.25,348.75 365.97,350.21 367.58,350.44 366.42,351.58 366.69,353.18 365.25,352.43 363.81,353.18 364.08,351.58 362.92,350.44 364.53,350.21" fill="#7c7c7c"/>
<text x="284.10" y="465.20" font-size="8.6" text-anchor="end" font-weight="bold" fill="#111" font-family='"Liberation Serif", serif' transform="rotate(-45 284.10 465.20)">Conv</text>
<text x="306.50" y="465.20" font-size="8.6" text-anchor="end" font-weight="bold" fill="#111" font-family='"Liberation Serif", serif' transform="rotate(-45 306.50 465.20)">21</text>
<text x="328.90" y="465.20" font-size="8.6" text-anchor="end" font-weight="bold" fill="#111" font-family='"Liberation Serif", serif' transform="rotate(-45 328.90 465.20)">9</text>
<text x="351.30" y="465.20" font-size="8.6" text-anchor="end" font-weight="bold" fill="#111" font-family='"Liberation Serif", serif' transform="rotate(-45 351.30 465.20)">21×9</text>
<text x="373.70" y="465.20" font-size="8.6" text-anchor="end" font-weight="bold" fill="#111" font-family='"Liberation Serif", serif' transform="rotate(-45 373.70 465.20)">PD-1 blocked 21×9</text>
<text x="396.10" y="465.20" font-size="8.6" text-anchor="end" font-weight="bold" fill="#111" font-family='"Liberation Serif", serif' transform="rotate(-45 396.10 465.20)">Null-T</text>
<text x="418.50" y="465.20" font-size="8.6" text-anchor="end" font-weight="bold" fill="#111" font-family='"Liberation Serif", serif' transform="rotate(-45 418.50 465.20)">Blank-T</text>
<rect x="486.10" y="426.19" width="14.80" height="29.41" fill="#bcbcbc"/>
<line x1="493.50" y1="426.19" x2="493.50" y2="423.20" stroke="#333" stroke-width="1.1"/>
<line x1="489.50" y1="423.20" x2="497.50" y2="423.20" stroke="#333" stroke-width="1.1"/>
<rect x="508.55" y="419.20" width="14.80" height="36.40" fill="#f5b04a"/>
<line x1="515.95" y1="419.20" x2="515.95" y2="414.49" stroke="#333" stroke-width="1.1"/>
<line x1="511.95" y1="414.49" x2="519.95" y2="414.49" stroke="#333" stroke-width="1.1"/>
<rect x="531.00" y="418.00" width="14.80" height="37.60" fill="#5c8ac8"/>
<line x1="538.40" y1="418.00" x2="538.40" y2="417.11" stroke="#333" stroke-width="1.1"/>
<line x1="534.40" y1="417.11" x2="542.40" y2="417.11" stroke="#333" stroke-width="1.1"/>
<rect x="553.45" y="399.60" width="14.80" height="56.00" fill="#2db2bd"/>
<line x1="560.85" y1="399.60" x2="560.85" y2="397.30" stroke="#333" stroke-width="1.1"/>
<line x1="556.85" y1="397.30" x2="564.85" y2="397.30" stroke="#333" stroke-width="1.1"/>
<rect x="575.90" y="381.21" width="14.80" height="74.39" fill="#f19a78"/>
<line x1="583.30" y1="381.21" x2="583.30" y2="375.40" stroke="#333" stroke-width="1.1"/>
<line x1="579.30" y1="375.40" x2="587.30" y2="375.40" stroke="#333" stroke-width="1.1"/>
<rect x="598.35" y="438.10" width="14.80" height="17.50" fill="#fdf6b2"/>
<line x1="605.75" y1="438.10" x2="605.75" y2="435.79" stroke="#333" stroke-width="1.1"/>
<line x1="601.75" y1="435.79" x2="609.75" y2="435.79" stroke="#333" stroke-width="1.1"/>
<rect x="620.80" y="434.09" width="14.80" height="21.51" fill="#c682b2"/>
<line x1="628.20" y1="434.09" x2="628.20" y2="427.21" stroke="#333" stroke-width="1.1"/>
<line x1="624.20" y1="427.21" x2="632.20" y2="427.21" stroke="#333" stroke-width="1.1"/>
<line x1="482.50" y1="351.40" x2="482.50" y2="456.20" stroke="#333" stroke-width="1.2"/>
<line x1="481.90" y1="455.60" x2="639.70" y2="455.60" stroke="#333" stroke-width="1.2"/>
<line x1="479.50" y1="455.60" x2="482.50" y2="455.60" stroke="#333" stroke-width="1.1"/>
<text x="478.00" y="458.80" font-size="7.6" text-anchor="end" font-weight="bold" fill="#111" font-family='"Liberation Sans", sans-serif'>0</text>
<line x1="479.50" y1="434.86" x2="482.50" y2="434.86" stroke="#333" stroke-width="1.1"/>
<text x="478.00" y="438.06" font-size="7.6" text-anchor="end" font-weight="bold" fill="#111" font-family='"Liberation Sans", sans-serif'>1000</text>
<line x1="479.50" y1="414.12" x2="482.50" y2="414.12" stroke="#333" stroke-width="1.1"/>
<text x="478.00" y="417.32" font-size="7.6" text-anchor="end" font-weight="bold" fill="#111" font-family='"Liberation Sans", sans-serif'>2000</text>
<line x1="479.50" y1="393.38" x2="482.50" y2="393.38" stroke="#333" stroke-width="1.1"/>
<text x="478.00" y="396.58" font-size="7.6" text-anchor="end" font-weight="bold" fill="#111" font-family='"Liberation Sans", sans-serif'>3000</text>
<line x1="479.50" y1="372.64" x2="482.50" y2="372.64" stroke="#333" stroke-width="1.1"/>
<text x="478.00" y="375.84" font-size="7.6" text-anchor="end" font-weight="bold" fill="#111" font-family='"Liberation Sans", sans-serif'>4000</text>
<line x1="479.50" y1="351.90" x2="482.50" y2="351.90" stroke="#333" stroke-width="1.1"/>
<text x="478.00" y="355.10" font-size="7.6" text-anchor="end" font-weight="bold" fill="#111" font-family='"Liberation Sans", sans-serif'>5000</text>
<line x1="493.50" y1="455.60" x2="493.50" y2="458.60" stroke="#333" stroke-width="1.0"/>
<line x1="515.95" y1="455.60" x2="515.95" y2="458.60" stroke="#333" stroke-width="1.0"/>
<line x1="538.40" y1="455.60" x2="538.40" y2="458.60" stroke="#333" stroke-width="1.0"/>
<line x1="560.85" y1="455.60" x2="560.85" y2="458.60" stroke="#333" stroke-width="1.0"/>
<line x1="583.30" y1="455.60" x2="583.30" y2="458.60" stroke="#333" stroke-width="1.0"/>
<line x1="605.75" y1="455.60" x2="605.75" y2="458.60" stroke="#333" stroke-width="1.0"/>
<line x1="628.20" y1="455.60" x2="628.20" y2="458.60" stroke="#333" stroke-width="1.0"/>
<text x="455.50" y="403.00" font-size="11.5" text-anchor="middle" font-weight="bold" fill="#111" font-family='"Liberation Serif", serif' transform="rotate(-90 455.50 403.00)">TNF-a (pg/ml)</text>
<line x1="495.80" y1="366.80" x2="561.00" y2="366.80" stroke="#111" stroke-width="1.6"/>
<polygon points="523.10,359.45 523.82,360.91 525.43,361.14 524.27,362.28 524.54,363.88 523.10,363.13 521.66,363.88 521.93,362.28 520.77,361.14 522.38,360.91" fill="#7c7c7c"/>
<polygon points="528.40,359.45 529.12,360.91 530.73,361.14 529.57,362.28 529.84,363.88 528.40,363.13 526.96,363.88 527.23,362.28 526.07,361.14 527.68,360.91" fill="#7c7c7c"/>
<polygon points="533.70,359.45 534.42,360.91 536.03,361.14 534.87,362.28 535.14,363.88 533.70,363.13 532.26,363.88 532.53,362.28 531.37,361.14 532.98,360.91" fill="#7c7c7c"/>
<line x1="517.20" y1="379.40" x2="561.00" y2="379.40" stroke="#111" stroke-width="1.6"/>
<polygon points="533.80,372.05 534.52,373.51 536.13,373.74 534.97,374.88 535.24,376.48 533.80,375.73 532.36,376.48 532.63,374.88 531.47,373.74 533.08,373.51" fill="#7c7c7c"/>
<polygon points="539.10,372.05 539.82,373.51 541.43,373.74 540.27,374.88 540.54,376.48 539.10,375.73 537.66,376.48 537.93,374.88 536.77,373.74 538.38,373.51" fill="#7c7c7c"/>
<polygon points="544.40,372.05 545.12,373.51 546.73,373.74 545.57,374.88 545.84,376.48 544.40,375.73 542.96,376.48 543.23,374.88 542.07,373.74 543.68,373.51" fill="#7c7c7c"/>
<line x1="538.20" y1="391.30" x2="561.30" y2="391.30" stroke="#111" stroke-width="1.6"/>
<polygon points="547.10,383.95 547.82,385.41 549.43,385.64 548.27,386.78 548.54,388.38 547.10,387.63 545.66,388.38 545.93,386.78 544.77,385.64 546.38,385.41" fill="#7c7c7c"/>
<polygon points="552.40,383.95 553.12,385.41 554.73,385.64 553.57,386.78 553.84,388.38 552.40,387.63 550.96,388.38 551.23,386.78 550.07,385.64 551.68,385.41" fill="#7c7c7c"/>
<line x1="563.90" y1="358.00" x2="586.80" y2="358.00" stroke="#111" stroke-width="1.6"/>
<polygon points="572.70,350.65 573.42,352.11 575.03,352.34 573.87,353.48 574.14,355.08 572.70,354.33 571.26,355.08 571.53,353.48 570.37,352.34 571.98,352.11" fill="#7c7c7c"/>
<polygon points="578.00,350.65 578.72,352.11 580.33,352.34 579.17,353.48 579.44,355.08 578.00,354.33 576.56,355.08 576.83,353.48 575.67,352.34 577.28,352.11" fill="#7c7c7c"/>
<text x="495.90" y="464.40" font-size="7.8" text-anchor="end" font-weight="bold" fill="#111" font-family='"Liberation Serif", serif' transform="rotate(-49 495.90 464.40)">Conv</text>
<text x="518.35" y="464.40" font-size="7.8" text-anchor="end" font-weight="bold" fill="#111" font-family='"Liberation Serif", serif' transform="rotate(-49 518.35 464.40)">21</text>
<text x="540.80" y="464.40" font-size="7.8" text-anchor="end" font-weight="bold" fill="#111" font-family='"Liberation Serif", serif' transform="rotate(-49 540.80 464.40)">9</text>
<text x="563.25" y="464.40" font-size="7.8" text-anchor="end" font-weight="bold" fill="#111" font-family='"Liberation Serif", serif' transform="rotate(-49 563.25 464.40)">21×9</text>
<text x="585.70" y="464.40" font-size="7.8" text-anchor="end" font-weight="bold" fill="#111" font-family='"Liberation Serif", serif' transform="rotate(-49 585.70 464.40)">PD-1 blocked 21×9</text>
<text x="608.15" y="464.40" font-size="7.8" text-anchor="end" font-weight="bold" fill="#111" font-family='"Liberation Serif", serif' transform="rotate(-49 608.15 464.40)">Null-T</text>
<text x="630.60" y="464.40" font-size="7.8" text-anchor="end" font-weight="bold" fill="#111" font-family='"Liberation Serif", serif' transform="rotate(-49 630.60 464.40)">Blank-T</text>
<polyline points="63.30,649.88 106.00,648.85 148.90,637.58" fill="none" stroke="#c9bf2a" stroke-width="1.1"/>
<circle cx="63.30" cy="649.88" r="2.18" fill="#ece48a" stroke="#c9bf2a" stroke-width="1"/>
<circle cx="106.00" cy="648.85" r="2.18" fill="#ece48a" stroke="#c9bf2a" stroke-width="1"/>
<circle cx="148.90" cy="637.58" r="2.18" fill="#ece48a" stroke="#c9bf2a" stroke-width="1"/>
<polyline points="63.30,649.36 106.00,645.77 148.90,637.58" fill="none" stroke="#c8308a" stroke-width="1.1"/>
<rect x="61.11" y="647.18" width="4.37" height="4.37" fill="none" stroke="#c8308a" stroke-width="1.2"/>
<rect x="103.81" y="643.59" width="4.37" height="4.37" fill="none" stroke="#c8308a" stroke-width="1.2"/>
<rect x="146.72" y="635.39" width="4.37" height="4.37" fill="none" stroke="#c8308a" stroke-width="1.2"/>
<polyline points="63.30,628.35 106.00,620.15 148.90,592.48" fill="none" stroke="#7a7a7a" stroke-width="1.1"/>
<circle cx="63.30" cy="628.35" r="2.18" fill="#7a7a7a"/>
<circle cx="106.00" cy="620.15" r="2.18" fill="#7a7a7a"/>
<circle cx="148.90" cy="592.48" r="2.18" fill="#7a7a7a"/>
<polyline points="63.30,627.33 106.00,616.05 148.90,587.35" fill="none" stroke="#2b2b8c" stroke-width="1.1"/>
<polygon points="63.30,624.91 65.60,629.05 61.00,629.05" fill="#2b2b8c"/>
<polygon points="106.00,613.63 108.30,617.77 103.70,617.77" fill="#2b2b8c"/>
<polygon points="148.90,584.94 151.20,589.08 146.60,589.08" fill="#2b2b8c"/>
<polyline points="63.30,625.27 106.00,610.92 148.90,587.35" fill="none" stroke="#f47a20" stroke-width="1.1"/>
<rect x="61.23" y="623.20" width="4.14" height="4.14" fill="#f47a20"/>
<rect x="103.93" y="608.85" width="4.14" height="4.14" fill="#f47a20"/>
<rect x="146.83" y="585.28" width="4.14" height="4.14" fill="#f47a20"/>
<polyline points="63.30,619.12 106.00,596.58 148.90,569.92" fill="none" stroke="#3e8a5a" stroke-width="1.1"/>
<polygon points="63.30,621.54 65.60,617.40 61.00,617.40" fill="#3e8a5a"/>
<polygon points="106.00,598.99 108.30,594.85 103.70,594.85" fill="#3e8a5a"/>
<polygon points="148.90,572.34 151.20,568.20 146.60,568.20" fill="#3e8a5a"/>
<polyline points="63.30,602.73 106.00,582.23 148.90,557.62" fill="none" stroke="#e8202a" stroke-width="1.1"/>
<polygon points="63.30,600.20 65.83,602.73 63.30,605.25 60.77,602.73" fill="#e8202a"/>
<polygon points="106.00,579.70 108.53,582.23 106.00,584.75 103.47,582.23" fill="#e8202a"/>
<polygon points="148.90,555.10 151.43,557.62 148.90,560.15 146.37,557.62" fill="#e8202a"/>
<line x1="41.00" y1="552.00" x2="41.00" y2="655.60" stroke="#333" stroke-width="1.2"/>
<line x1="40.40" y1="655.00" x2="165.50" y2="655.00" stroke="#333" stroke-width="1.2"/>
<line x1="38.20" y1="655.00" x2="41.00" y2="655.00" stroke="#222" stroke-width="1.2"/>
<text x="37.10" y="657.45" font-size="7.1" text-anchor="end" font-weight="bold" fill="#111" font-family='"Liberation Serif", serif'>0</text>
<line x1="38.20" y1="634.50" x2="41.00" y2="634.50" stroke="#222" stroke-width="1.2"/>
<text x="37.10" y="636.95" font-size="7.1" text-anchor="end" font-weight="bold" fill="#111" font-family='"Liberation Serif", serif'>20</text>
<line x1="38.20" y1="614.00" x2="41.00" y2="614.00" stroke="#222" stroke-width="1.2"/>
<text x="37.10" y="616.45" font-size="7.1" text-anchor="end" font-weight="bold" fill="#111" font-family='"Liberation Serif", serif'>40</text>
<line x1="38.20" y1="593.50" x2="41.00" y2="593.50" stroke="#222" stroke-width="1.2"/>
<text x="37.10" y="595.95" font-size="7.1" text-anchor="end" font-weight="bold" fill="#111" font-family='"Liberation Serif", serif'>60</text>
<line x1="38.20" y1="573.00" x2="41.00" y2="573.00" stroke="#222" stroke-width="1.2"/>
<text x="37.10" y="575.45" font-size="7.1" text-anchor="end" font-weight="bold" fill="#111" font-family='"Liberation Serif", serif'>80</text>
<line x1="38.20" y1="552.50" x2="41.00" y2="552.50" stroke="#222" stroke-width="1.2"/>
<text x="37.10" y="554.95" font-size="7.1" text-anchor="end" font-weight="bold" fill="#111" font-family='"Liberation Serif", serif'>100</text>
<line x1="63.30" y1="655.00" x2="63.30" y2="658.00" stroke="#333" stroke-width="1.0"/>
<text x="65.50" y="664.80" font-size="7.4" text-anchor="end" font-weight="bold" fill="#111" font-family='"Liberation Serif", serif' transform="rotate(-45 65.50 664.80)">5:1</text>
<line x1="106.00" y1="655.00" x2="106.00" y2="658.00" stroke="#333" stroke-width="1.0"/>
<text x="108.20" y="664.80" font-size="7.4" text-anchor="end" font-weight="bold" fill="#111" font-family='"Liberation Serif", serif' transform="rotate(-45 108.20 664.80)">10:1</text>
<line x1="148.90" y1="655.00" x2="148.90" y2="658.00" stroke="#333" stroke-width="1.0"/>
<text x="151.10" y="664.80" font-size="7.4" text-anchor="end" font-weight="bold" fill="#111" font-family='"Liberation Serif", serif' transform="rotate(-45 151.10 664.80)">20:1</text>
<text x="98.00" y="541.50" font-size="9.6" text-anchor="middle" font-weight="bold" fill="#111" font-family='"Liberation Serif", serif'>HepG2</text>
<text x="101.40" y="683.80" font-size="9.6" text-anchor="middle" font-weight="bold" fill="#111" font-family='"Liberation Serif", serif'>E:T ratios</text>
<text x="22.20" y="603.20" font-size="9.5" text-anchor="middle" font-weight="bold" fill="#111" font-family='"Liberation Serif", serif' transform="rotate(-90 22.20 603.20)">Specific lysis (%)</text>
<polyline points="218.40,648.85 261.30,648.34 304.00,641.67" fill="none" stroke="#c9bf2a" stroke-width="1.1"/>
<circle cx="218.40" cy="648.85" r="2.18" fill="#ece48a" stroke="#c9bf2a" stroke-width="1"/>
<circle cx="261.30" cy="648.34" r="2.18" fill="#ece48a" stroke="#c9bf2a" stroke-width="1"/>
<circle cx="304.00" cy="641.67" r="2.18" fill="#ece48a" stroke="#c9bf2a" stroke-width="1"/>
<polyline points="218.40,649.88 261.30,645.77 304.00,642.70" fill="none" stroke="#a03a8e" stroke-width="1.1"/>
<rect x="216.22" y="647.69" width="4.37" height="4.37" fill="none" stroke="#a03a8e" stroke-width="1.2"/>
<rect x="259.12" y="643.59" width="4.37" height="4.37" fill="none" stroke="#a03a8e" stroke-width="1.2"/>
<rect x="301.81" y="640.52" width="4.37" height="4.37" fill="none" stroke="#a03a8e" stroke-width="1.2"/>
<polyline points="218.40,631.42 261.30,618.10 304.00,612.98" fill="none" stroke="#7a7a7a" stroke-width="1.1"/>
<circle cx="218.40" cy="631.42" r="2.18" fill="#7a7a7a"/>
<circle cx="261.30" cy="618.10" r="2.18" fill="#7a7a7a"/>
<circle cx="304.00" cy="612.98" r="2.18" fill="#7a7a7a"/>
<polyline points="218.40,621.17 261.30,611.44 304.00,603.75" fill="none" stroke="#2b2b8c" stroke-width="1.1"/>
<polygon points="218.40,618.76 220.70,622.90 216.10,622.90" fill="#2b2b8c"/>
<polygon points="261.30,609.02 263.60,613.16 259.00,613.16" fill="#2b2b8c"/>
<polygon points="304.00,601.34 306.30,605.48 301.70,605.48" fill="#2b2b8c"/>
<polyline points="218.40,620.15 261.30,617.08 304.00,599.65" fill="none" stroke="#f47a20" stroke-width="1.1"/>
<rect x="216.33" y="618.08" width="4.14" height="4.14" fill="#f47a20"/>
<rect x="259.23" y="615.00" width="4.14" height="4.14" fill="#f47a20"/>
<rect x="301.93" y="597.58" width="4.14" height="4.14" fill="#f47a20"/>
<polyline points="218.40,614.00 261.30,595.55 304.00,584.27" fill="none" stroke="#3e8a5a" stroke-width="1.1"/>
<polygon points="218.40,616.41 220.70,612.27 216.10,612.27" fill="#3e8a5a"/>
<polygon points="261.30,597.96 263.60,593.82 259.00,593.82" fill="#3e8a5a"/>
<polygon points="304.00,586.69 306.30,582.55 301.70,582.55" fill="#3e8a5a"/>
<polyline points="218.40,599.65 261.30,583.25 304.00,567.88" fill="none" stroke="#e8202a" stroke-width="1.1"/>
<polygon points="218.40,597.12 220.93,599.65 218.40,602.18 215.87,599.65" fill="#e8202a"/>
<polygon points="261.30,580.72 263.83,583.25 261.30,585.78 258.77,583.25" fill="#e8202a"/>
<polygon points="304.00,565.35 306.53,567.88 304.00,570.40 301.47,567.88" fill="#e8202a"/>
<line x1="197.30" y1="552.00" x2="197.30" y2="655.60" stroke="#333" stroke-width="1.2"/>
<line x1="196.70" y1="655.00" x2="322.60" y2="655.00" stroke="#333" stroke-width="1.2"/>
<line x1="194.50" y1="655.00" x2="197.30" y2="655.00" stroke="#222" stroke-width="1.2"/>
<text x="193.40" y="657.45" font-size="7.1" text-anchor="end" font-weight="bold" fill="#111" font-family='"Liberation Serif", serif'>0</text>
<line x1="194.50" y1="634.50" x2="197.30" y2="634.50" stroke="#222" stroke-width="1.2"/>
<text x="193.40" y="636.95" font-size="7.1" text-anchor="end" font-weight="bold" fill="#111" font-family='"Liberation Serif", serif'>20</text>
<line x1="194.50" y1="614.00" x2="197.30" y2="614.00" stroke="#222" stroke-width="1.2"/>
<text x="193.40" y="616.45" font-size="7.1" text-anchor="end" font-weight="bold" fill="#111" font-family='"Liberation Serif", serif'>40</text>
<line x1="194.50" y1="593.50" x2="197.30" y2="593.50" stroke="#222" stroke-width="1.2"/>
<text x="193.40" y="595.95" font-size="7.1" text-anchor="end" font-weight="bold" fill="#111" font-family='"Liberation Serif", serif'>60</text>
<line x1="194.50" y1="573.00" x2="197.30" y2="573.00" stroke="#222" stroke-width="1.2"/>
<text x="193.40" y="575.45" font-size="7.1" text-anchor="end" font-weight="bold" fill="#111" font-family='"Liberation Serif", serif'>80</text>
<line x1="194.50" y1="552.50" x2="197.30" y2="552.50" stroke="#222" stroke-width="1.2"/>
<text x="193.40" y="554.95" font-size="7.1" text-anchor="end" font-weight="bold" fill="#111" font-family='"Liberation Serif", serif'>100</text>
<line x1="218.40" y1="655.00" x2="218.40" y2="658.00" stroke="#333" stroke-width="1.0"/>
<text x="220.60" y="664.80" font-size="7.4" text-anchor="end" font-weight="bold" fill="#111" font-family='"Liberation Serif", serif' transform="rotate(-45 220.60 664.80)">5:1</text>
<line x1="261.30" y1="655.00" x2="261.30" y2="658.00" stroke="#333" stroke-width="1.0"/>
<text x="263.50" y="664.80" font-size="7.4" text-anchor="end" font-weight="bold" fill="#111" font-family='"Liberation Serif", serif' transform="rotate(-45 263.50 664.80)">10:1</text>
<line x1="304.00" y1="655.00" x2="304.00" y2="658.00" stroke="#333" stroke-width="1.0"/>
<text x="306.20" y="664.80" font-size="7.4" text-anchor="end" font-weight="bold" fill="#111" font-family='"Liberation Serif", serif' transform="rotate(-45 306.20 664.80)">20:1</text>
<text x="253.60" y="541.50" font-size="9.6" text-anchor="middle" font-weight="bold" fill="#111" font-family='"Liberation Serif", serif'>Hep3B</text>
<text x="254.10" y="683.80" font-size="9.6" text-anchor="middle" font-weight="bold" fill="#111" font-family='"Liberation Serif", serif'>E:T ratios</text>
<text x="177.20" y="603.20" font-size="9.5" text-anchor="middle" font-weight="bold" fill="#111" font-family='"Liberation Serif", serif' transform="rotate(-90 177.20 603.20)">Specific lysis (%)</text>
<polyline points="373.40,650.39 416.80,648.85 460.30,644.75" fill="none" stroke="#c9bf2a" stroke-width="1.1"/>
<circle cx="373.40" cy="650.39" r="2.18" fill="#ece48a" stroke="#c9bf2a" stroke-width="1"/>
<circle cx="416.80" cy="648.85" r="2.18" fill="#ece48a" stroke="#c9bf2a" stroke-width="1"/>
<circle cx="460.30" cy="644.75" r="2.18" fill="#ece48a" stroke="#c9bf2a" stroke-width="1"/>
<polyline points="373.40,650.39 416.80,645.77 460.30,641.67" fill="none" stroke="#a03a8e" stroke-width="1.1"/>
<rect x="371.21" y="648.20" width="4.37" height="4.37" fill="none" stroke="#a03a8e" stroke-width="1.2"/>
<rect x="414.62" y="643.59" width="4.37" height="4.37" fill="none" stroke="#a03a8e" stroke-width="1.2"/>
<rect x="458.12" y="639.49" width="4.37" height="4.37" fill="none" stroke="#a03a8e" stroke-width="1.2"/>
<polyline points="373.40,632.45 416.80,628.35 460.30,619.12" fill="none" stroke="#7a7a7a" stroke-width="1.1"/>
<circle cx="373.40" cy="632.45" r="2.18" fill="#7a7a7a"/>
<circle cx="416.80" cy="628.35" r="2.18" fill="#7a7a7a"/>
<circle cx="460.30" cy="619.12" r="2.18" fill="#7a7a7a"/>
<polyline points="373.40,625.79 416.80,622.71 460.30,616.05" fill="none" stroke="#2b2b8c" stroke-width="1.1"/>
<polygon points="373.40,623.37 375.70,627.51 371.10,627.51" fill="#2b2b8c"/>
<polygon points="416.80,620.30 419.10,624.44 414.50,624.44" fill="#2b2b8c"/>
<polygon points="460.30,613.63 462.60,617.77 458.00,617.77" fill="#2b2b8c"/>
<polyline points="373.40,627.33 416.80,622.20 460.30,615.02" fill="none" stroke="#f47a20" stroke-width="1.1"/>
<rect x="371.33" y="625.25" width="4.14" height="4.14" fill="#f47a20"/>
<rect x="414.73" y="620.13" width="4.14" height="4.14" fill="#f47a20"/>
<rect x="458.23" y="612.95" width="4.14" height="4.14" fill="#f47a20"/>
<polyline points="373.40,623.23 416.80,616.05 460.30,603.75" fill="none" stroke="#3e8a5a" stroke-width="1.1"/>
<polygon points="373.40,625.64 375.70,621.50 371.10,621.50" fill="#3e8a5a"/>
<polygon points="416.80,618.46 419.10,614.32 414.50,614.32" fill="#3e8a5a"/>
<polygon points="460.30,606.16 462.60,602.02 458.00,602.02" fill="#3e8a5a"/>
<polyline points="373.40,615.02 416.80,604.77 460.30,595.55" fill="none" stroke="#e8202a" stroke-width="1.1"/>
<polygon points="373.40,612.50 375.93,615.02 373.40,617.55 370.87,615.02" fill="#e8202a"/>
<polygon points="416.80,602.25 419.33,604.77 416.80,607.30 414.27,604.77" fill="#e8202a"/>
<polygon points="460.30,593.02 462.83,595.55 460.30,598.08 457.77,595.55" fill="#e8202a"/>
<line x1="351.60" y1="552.00" x2="351.60" y2="655.60" stroke="#333" stroke-width="1.2"/>
<line x1="351.00" y1="655.00" x2="480.70" y2="655.00" stroke="#333" stroke-width="1.2"/>
<line x1="348.80" y1="655.00" x2="351.60" y2="655.00" stroke="#222" stroke-width="1.2"/>
<text x="347.70" y="657.45" font-size="7.1" text-anchor="end" font-weight="bold" fill="#111" font-family='"Liberation Serif", serif'>0</text>
<line x1="348.80" y1="634.50" x2="351.60" y2="634.50" stroke="#222" stroke-width="1.2"/>
<text x="347.70" y="636.95" font-size="7.1" text-anchor="end" font-weight="bold" fill="#111" font-family='"Liberation Serif", serif'>20</text>
<line x1="348.80" y1="614.00" x2="351.60" y2="614.00" stroke="#222" stroke-width="1.2"/>
<text x="347.70" y="616.45" font-size="7.1" text-anchor="end" font-weight="bold" fill="#111" font-family='"Liberation Serif", serif'>40</text>
<line x1="348.80" y1="593.50" x2="351.60" y2="593.50" stroke="#222" stroke-width="1.2"/>
<text x="347.70" y="595.95" font-size="7.1" text-anchor="end" font-weight="bold" fill="#111" font-family='"Liberation Serif", serif'>60</text>
<line x1="348.80" y1="573.00" x2="351.60" y2="573.00" stroke="#222" stroke-width="1.2"/>
<text x="347.70" y="575.45" font-size="7.1" text-anchor="end" font-weight="bold" fill="#111" font-family='"Liberation Serif", serif'>80</text>
<line x1="348.80" y1="552.50" x2="351.60" y2="552.50" stroke="#222" stroke-width="1.2"/>
<text x="347.70" y="554.95" font-size="7.1" text-anchor="end" font-weight="bold" fill="#111" font-family='"Liberation Serif", serif'>100</text>
<line x1="373.40" y1="655.00" x2="373.40" y2="658.00" stroke="#333" stroke-width="1.0"/>
<text x="375.60" y="664.80" font-size="7.4" text-anchor="end" font-weight="bold" fill="#111" font-family='"Liberation Serif", serif' transform="rotate(-45 375.60 664.80)">5:1</text>
<line x1="416.80" y1="655.00" x2="416.80" y2="658.00" stroke="#333" stroke-width="1.0"/>
<text x="419.00" y="664.80" font-size="7.4" text-anchor="end" font-weight="bold" fill="#111" font-family='"Liberation Serif", serif' transform="rotate(-45 419.00 664.80)">10:1</text>
<line x1="460.30" y1="655.00" x2="460.30" y2="658.00" stroke="#333" stroke-width="1.0"/>
<text x="462.50" y="664.80" font-size="7.4" text-anchor="end" font-weight="bold" fill="#111" font-family='"Liberation Serif", serif' transform="rotate(-45 462.50 664.80)">20:1</text>
<text x="410.10" y="541.50" font-size="9.6" text-anchor="middle" font-weight="bold" fill="#111" font-family='"Liberation Serif", serif'>Huh-7</text>
<text x="411.30" y="683.80" font-size="9.6" text-anchor="middle" font-weight="bold" fill="#111" font-family='"Liberation Serif", serif'>E:T ratios</text>
<text x="331.80" y="603.20" font-size="9.5" text-anchor="middle" font-weight="bold" fill="#111" font-family='"Liberation Serif", serif' transform="rotate(-90 331.80 603.20)">Specific lysis (%)</text>
<polyline points="533.30,650.33 576.60,647.79 619.80,645.25" fill="none" stroke="#c9bf2a" stroke-width="1.1"/>
<circle cx="533.30" cy="650.33" r="2.18" fill="#ece48a" stroke="#c9bf2a" stroke-width="1"/>
<circle cx="576.60" cy="647.79" r="2.18" fill="#ece48a" stroke="#c9bf2a" stroke-width="1"/>
<circle cx="619.80" cy="645.25" r="2.18" fill="#ece48a" stroke="#c9bf2a" stroke-width="1"/>
<polyline points="533.30,650.33 576.60,647.28 619.80,645.76" fill="none" stroke="#a03a8e" stroke-width="1.1"/>
<rect x="531.12" y="648.15" width="4.37" height="4.37" fill="none" stroke="#a03a8e" stroke-width="1.2"/>
<rect x="574.42" y="645.10" width="4.37" height="4.37" fill="none" stroke="#a03a8e" stroke-width="1.2"/>
<rect x="617.62" y="643.57" width="4.37" height="4.37" fill="none" stroke="#a03a8e" stroke-width="1.2"/>
<polyline points="533.30,651.35 576.60,646.26 619.80,643.21" fill="none" stroke="#7a7a7a" stroke-width="1.1"/>
<circle cx="533.30" cy="651.35" r="2.18" fill="#7a7a7a"/>
<circle cx="576.60" cy="646.26" r="2.18" fill="#7a7a7a"/>
<circle cx="619.80" cy="643.21" r="2.18" fill="#7a7a7a"/>
<polyline points="533.30,649.31 576.60,646.26 619.80,643.21" fill="none" stroke="#2b2b8c" stroke-width="1.1"/>
<polygon points="533.30,646.90 535.60,651.04 531.00,651.04" fill="#2b2b8c"/>
<polygon points="576.60,643.85 578.90,647.99 574.30,647.99" fill="#2b2b8c"/>
<polygon points="619.80,640.80 622.10,644.94 617.50,644.94" fill="#2b2b8c"/>
<polyline points="533.30,649.31 576.60,646.26 619.80,644.23" fill="none" stroke="#f47a20" stroke-width="1.1"/>
<rect x="531.23" y="647.24" width="4.14" height="4.14" fill="#f47a20"/>
<rect x="574.53" y="644.19" width="4.14" height="4.14" fill="#f47a20"/>
<rect x="617.73" y="642.16" width="4.14" height="4.14" fill="#f47a20"/>
<polyline points="533.30,648.30 576.60,645.25 619.80,642.20" fill="none" stroke="#3e8a5a" stroke-width="1.1"/>
<polygon points="533.30,650.71 535.60,646.57 531.00,646.57" fill="#3e8a5a"/>
<polygon points="576.60,647.66 578.90,643.52 574.30,643.52" fill="#3e8a5a"/>
<polygon points="619.80,644.61 622.10,640.47 617.50,640.47" fill="#3e8a5a"/>
<polyline points="533.30,646.26 576.60,643.72 619.80,641.18" fill="none" stroke="#e8202a" stroke-width="1.1"/>
<polygon points="533.30,643.73 535.83,646.26 533.30,648.79 530.77,646.26" fill="#e8202a"/>
<polygon points="576.60,641.19 579.13,643.72 576.60,646.25 574.07,643.72" fill="#e8202a"/>
<polygon points="619.80,638.65 622.33,641.18 619.80,643.71 617.27,641.18" fill="#e8202a"/>
<line x1="511.90" y1="552.20" x2="511.90" y2="655.00" stroke="#333" stroke-width="1.2"/>
<line x1="511.30" y1="654.40" x2="641.20" y2="654.40" stroke="#333" stroke-width="1.2"/>
<line x1="509.10" y1="654.40" x2="511.90" y2="654.40" stroke="#222" stroke-width="1.2"/>
<text x="508.00" y="656.85" font-size="7.1" text-anchor="end" font-weight="bold" fill="#111" font-family='"Liberation Serif", serif'>0</text>
<line x1="509.10" y1="634.06" x2="511.90" y2="634.06" stroke="#222" stroke-width="1.2"/>
<text x="508.00" y="636.51" font-size="7.1" text-anchor="end" font-weight="bold" fill="#111" font-family='"Liberation Serif", serif'>20</text>
<line x1="509.10" y1="613.72" x2="511.90" y2="613.72" stroke="#222" stroke-width="1.2"/>
<text x="508.00" y="616.17" font-size="7.1" text-anchor="end" font-weight="bold" fill="#111" font-family='"Liberation Serif", serif'>40</text>
<line x1="509.10" y1="593.38" x2="511.90" y2="593.38" stroke="#222" stroke-width="1.2"/>
<text x="508.00" y="595.83" font-size="7.1" text-anchor="end" font-weight="bold" fill="#111" font-family='"Liberation Serif", serif'>60</text>
<line x1="509.10" y1="573.04" x2="511.90" y2="573.04" stroke="#222" stroke-width="1.2"/>
<text x="508.00" y="575.49" font-size="7.1" text-anchor="end" font-weight="bold" fill="#111" font-family='"Liberation Serif", serif'>80</text>
<line x1="509.10" y1="552.70" x2="511.90" y2="552.70" stroke="#222" stroke-width="1.2"/>
<text x="508.00" y="555.15" font-size="7.1" text-anchor="end" font-weight="bold" fill="#111" font-family='"Liberation Serif", serif'>100</text>
<line x1="533.30" y1="654.40" x2="533.30" y2="657.40" stroke="#333" stroke-width="1.0"/>
<text x="535.50" y="664.20" font-size="7.4" text-anchor="end" font-weight="bold" fill="#111" font-family='"Liberation Serif", serif' transform="rotate(-45 535.50 664.20)">5:1</text>
<line x1="576.60" y1="654.40" x2="576.60" y2="657.40" stroke="#333" stroke-width="1.0"/>
<text x="578.80" y="664.20" font-size="7.4" text-anchor="end" font-weight="bold" fill="#111" font-family='"Liberation Serif", serif' transform="rotate(-45 578.80 664.20)">10:1</text>
<line x1="619.80" y1="654.40" x2="619.80" y2="657.40" stroke="#333" stroke-width="1.0"/>
<text x="622.00" y="664.20" font-size="7.4" text-anchor="end" font-weight="bold" fill="#111" font-family='"Liberation Serif", serif' transform="rotate(-45 622.00 664.20)">20:1</text>
<text x="568.80" y="541.50" font-size="9.6" text-anchor="middle" font-weight="bold" fill="#111" font-family='"Liberation Serif", serif'>SK-Hep-1</text>
<text x="572.50" y="683.80" font-size="9.6" text-anchor="middle" font-weight="bold" fill="#111" font-family='"Liberation Serif", serif'>E:T ratios</text>
<text x="491.80" y="603.20" font-size="9.5" text-anchor="middle" font-weight="bold" fill="#111" font-family='"Liberation Serif", serif' transform="rotate(-90 491.80 603.20)">Specific lysis (%)</text>
<line x1="610.20" y1="553.40" x2="619.60" y2="553.40" stroke="#7a7a7a" stroke-width="1.1"/>
<circle cx="614.90" cy="553.40" r="1.80" fill="#7a7a7a"/>
<text x="624.20" y="556.00" font-size="7.2" text-anchor="start" font-weight="bold" fill="#111" font-family='"Liberation Serif", serif'>conv</text>
<line x1="610.20" y1="563.00" x2="619.60" y2="563.00" stroke="#f47a20" stroke-width="1.1"/>
<rect x="613.19" y="561.29" width="3.42" height="3.42" fill="#f47a20"/>
<text x="624.20" y="565.60" font-size="7.2" text-anchor="start" font-weight="bold" fill="#111" font-family='"Liberation Serif", serif'>21</text>
<line x1="610.20" y1="572.50" x2="619.60" y2="572.50" stroke="#2b2b8c" stroke-width="1.1"/>
<polygon points="614.90,570.50 616.80,573.92 613.00,573.92" fill="#2b2b8c"/>
<text x="624.20" y="575.10" font-size="7.2" text-anchor="start" font-weight="bold" fill="#111" font-family='"Liberation Serif", serif'>9</text>
<line x1="610.20" y1="581.80" x2="619.60" y2="581.80" stroke="#3e8a5a" stroke-width="1.1"/>
<polygon points="614.90,583.79 616.80,580.38 613.00,580.38" fill="#3e8a5a"/>
<text x="624.20" y="584.40" font-size="7.2" text-anchor="start" font-weight="bold" fill="#111" font-family='"Liberation Serif", serif'>21× 9</text>
<line x1="610.20" y1="591.60" x2="619.60" y2="591.60" stroke="#e8202a" stroke-width="1.1"/>
<polygon points="614.90,589.51 616.99,591.60 614.90,593.69 612.81,591.60" fill="#e8202a"/>
<text x="624.20" y="594.20" font-size="7.2" text-anchor="start" font-weight="bold" fill="#111" font-family='"Liberation Serif", serif' textLength="58.2" lengthAdjust="spacingAndGlyphs">PD-1 blocked 21× 9</text>
<line x1="610.20" y1="601.50" x2="619.60" y2="601.50" stroke="#c9bf2a" stroke-width="1.1"/>
<circle cx="614.90" cy="601.50" r="1.80" fill="#ece48a" stroke="#c9bf2a" stroke-width="1"/>
<text x="624.20" y="604.10" font-size="7.2" text-anchor="start" font-weight="bold" fill="#111" font-family='"Liberation Serif", serif'>Null-T</text>
<line x1="610.20" y1="610.80" x2="619.60" y2="610.80" stroke="#a03a8e" stroke-width="1.1"/>
<rect x="613.10" y="609.00" width="3.61" height="3.61" fill="none" stroke="#a03a8e" stroke-width="1.2"/>
<text x="624.20" y="613.40" font-size="7.2" text-anchor="start" font-weight="bold" fill="#111" font-family='"Liberation Serif", serif'>Blank-T</text>
</svg>
</body></html>
